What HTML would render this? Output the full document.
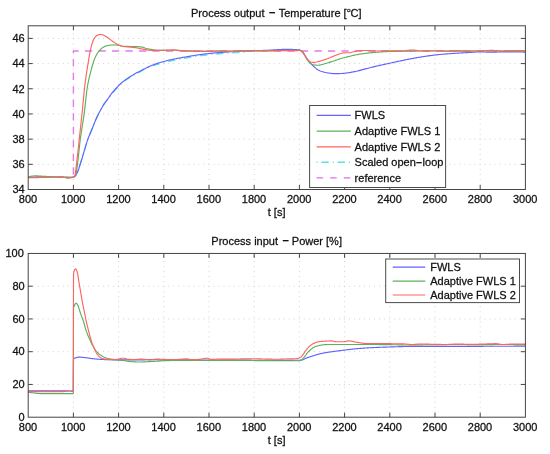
<!DOCTYPE html>
<html><head><meta charset="utf-8"><title>Process output and input</title>
<style>html,body{margin:0;padding:0;background:#fff;}body{width:550px;height:454px;position:relative;overflow:hidden;font-family:"Liberation Sans",sans-serif;}svg text{stroke:#111;stroke-width:0.25px}</style>
</head><body>
<svg width="550" height="454" viewBox="0 0 550 454" style="display:block;position:absolute;left:0;top:0" font-family="'Liberation Sans', sans-serif" font-size="10.4px" fill="#111">
<rect width="550" height="454" fill="#fff"/>
<line x1="73.40" y1="190.00" x2="73.40" y2="26.80" stroke="#d2d2d2" stroke-width="1" stroke-dasharray="1 4.02"/>
<line x1="118.60" y1="190.00" x2="118.60" y2="26.80" stroke="#d2d2d2" stroke-width="1" stroke-dasharray="1 4.02"/>
<line x1="163.80" y1="190.00" x2="163.80" y2="26.80" stroke="#d2d2d2" stroke-width="1" stroke-dasharray="1 4.02"/>
<line x1="209.00" y1="190.00" x2="209.00" y2="26.80" stroke="#d2d2d2" stroke-width="1" stroke-dasharray="1 4.02"/>
<line x1="254.20" y1="190.00" x2="254.20" y2="26.80" stroke="#d2d2d2" stroke-width="1" stroke-dasharray="1 4.02"/>
<line x1="299.40" y1="190.00" x2="299.40" y2="26.80" stroke="#d2d2d2" stroke-width="1" stroke-dasharray="1 4.02"/>
<line x1="344.60" y1="190.00" x2="344.60" y2="26.80" stroke="#d2d2d2" stroke-width="1" stroke-dasharray="1 4.02"/>
<line x1="389.80" y1="190.00" x2="389.80" y2="26.80" stroke="#d2d2d2" stroke-width="1" stroke-dasharray="1 4.02"/>
<line x1="435.00" y1="190.00" x2="435.00" y2="26.80" stroke="#d2d2d2" stroke-width="1" stroke-dasharray="1 4.02"/>
<line x1="480.20" y1="190.00" x2="480.20" y2="26.80" stroke="#d2d2d2" stroke-width="1" stroke-dasharray="1 4.02"/>
<line x1="27.70" y1="164.32" x2="524.40" y2="164.32" stroke="#d2d2d2" stroke-width="1" stroke-dasharray="1 4.02"/>
<line x1="27.70" y1="139.13" x2="524.40" y2="139.13" stroke="#d2d2d2" stroke-width="1" stroke-dasharray="1 4.02"/>
<line x1="27.70" y1="113.95" x2="524.40" y2="113.95" stroke="#d2d2d2" stroke-width="1" stroke-dasharray="1 4.02"/>
<line x1="27.70" y1="88.76" x2="524.40" y2="88.76" stroke="#d2d2d2" stroke-width="1" stroke-dasharray="1 4.02"/>
<line x1="27.70" y1="63.58" x2="524.40" y2="63.58" stroke="#d2d2d2" stroke-width="1" stroke-dasharray="1 4.02"/>
<line x1="27.70" y1="38.39" x2="524.40" y2="38.39" stroke="#d2d2d2" stroke-width="1" stroke-dasharray="1 4.02"/>
<path d="M73.40,176.91 L73.40,50.98 L525.40,50.98" fill="none" stroke="#e57aed" stroke-width="1.4" stroke-dasharray="7.3 6.2" stroke-dashoffset="11.05"/>
<path d="M73.40,176.91 L74.30,176.53 L75.21,175.86 L75.66,175.40 L76.11,174.82 L77.02,173.28 L77.69,171.87 L77.92,171.34 L78.82,168.75 L79.73,165.78 L80.18,164.32 L80.63,162.88 L81.54,159.96 L82.44,156.99 L82.89,155.50 L83.34,154.00 L84.25,150.96 L85.15,147.94 L85.38,147.19 L86.06,144.91 L86.96,141.88 L87.86,139.13 L88.77,136.81 L89.67,134.70 L90.58,132.58 L91.48,130.40 L92.38,128.21 L93.06,126.54 L93.29,125.97 L94.19,123.64 L95.10,121.33 L95.55,120.24 L96.00,119.20 L96.90,117.21 L97.81,115.31 L98.49,113.95 L98.71,113.50 L99.62,111.81 L100.52,110.19 L100.75,109.79 L101.42,108.58 L102.33,106.96 L103.23,105.38 L104.14,103.92 L104.59,103.24 L105.04,102.62 L105.94,101.47 L106.85,100.35 L107.75,99.17 L108.66,97.98 L109.56,96.79 L110.46,95.63 L110.92,95.06 L111.37,94.49 L112.27,93.37 L113.18,92.27 L114.08,91.19 L114.98,90.14 L115.66,89.39 L115.89,89.15 L116.79,88.17 L117.70,87.21 L118.60,86.27 L119.50,85.37 L120.41,84.50 L121.31,83.68 L121.99,83.09 L122.22,82.91 L123.12,82.17 L124.02,81.47 L124.93,80.79 L125.83,80.14 L126.74,79.51 L127.64,78.89 L128.54,78.30 L129.45,77.72 L129.90,77.43 L130.35,77.14 L131.26,76.59 L132.16,76.04 L133.06,75.51 L133.97,74.99 L134.87,74.48 L135.78,73.98 L136.68,73.49 L137.58,73.01 L138.49,72.53 L139.39,72.06 L140.30,71.59 L141.20,71.12 L141.43,71.01 L142.10,70.66 L143.01,70.19 L143.91,69.72 L144.82,69.25 L145.72,68.78 L146.62,68.33 L147.53,67.88 L148.43,67.45 L149.34,67.03 L150.24,66.64 L151.14,66.27 L152.05,65.93 L152.27,65.84 L152.95,65.61 L153.86,65.30 L154.76,65.01 L155.66,64.74 L156.57,64.47 L157.47,64.21 L158.38,63.97 L159.28,63.72 L160.18,63.49 L161.09,63.26 L161.99,63.03 L162.90,62.80 L163.80,62.57 L164.70,62.34 L165.61,62.12 L166.51,61.90 L167.42,61.68 L168.32,61.47 L169.22,61.26 L170.13,61.05 L171.03,60.85 L171.94,60.65 L172.84,60.46 L173.74,60.27 L174.20,60.18 L174.65,60.08 L175.55,59.90 L176.46,59.73 L177.36,59.55 L178.26,59.38 L179.17,59.21 L180.07,59.05 L180.98,58.89 L181.88,58.72 L182.78,58.56 L183.69,58.40 L184.59,58.24 L185.04,58.16 L185.50,58.08 L186.40,57.92 L187.30,57.76 L188.21,57.61 L189.11,57.45 L190.02,57.30 L190.92,57.15 L191.82,57.01 L192.73,56.86 L193.63,56.72 L194.54,56.58 L195.44,56.44 L196.34,56.30 L197.25,56.16 L198.15,56.03 L199.06,55.90 L199.96,55.77 L200.86,55.64 L201.77,55.52 L202.67,55.40 L203.58,55.28 L204.48,55.16 L205.38,55.05 L206.29,54.94 L207.19,54.83 L208.10,54.73 L209.00,54.64 L209.90,54.54 L210.81,54.46 L211.71,54.37 L212.62,54.28 L213.52,54.20 L214.42,54.12 L215.33,54.04 L216.23,53.97 L217.14,53.89 L218.04,53.82 L218.94,53.74 L219.85,53.67 L220.75,53.60 L221.66,53.53 L222.56,53.46 L223.46,53.39 L223.69,53.38 L224.37,53.33 L225.27,53.26 L226.18,53.19 L227.08,53.12 L227.98,53.06 L228.89,52.99 L229.79,52.93 L230.70,52.87 L231.60,52.81 L232.50,52.75 L233.41,52.70 L234.31,52.65 L234.76,52.62 L235.22,52.60 L236.12,52.55 L237.02,52.50 L237.93,52.45 L238.83,52.41 L239.74,52.36 L240.64,52.32 L241.54,52.28 L242.45,52.24 L243.35,52.20 L244.26,52.17 L245.16,52.13 L245.61,52.12" fill="none" stroke="#5ae0e0" stroke-width="1.45" stroke-linejoin="round" stroke-dasharray="7.2 4.1 1 3.9" stroke-dashoffset="3"/>
<path d="M28.20,177.54 L29.10,177.46 L30.01,177.39 L30.91,177.31 L31.82,177.25 L32.72,177.18 L33.62,177.12 L34.53,177.06 L35.43,177.02 L36.34,176.97 L37.24,176.94 L38.14,176.92 L39.05,176.91 L39.50,176.91 L39.95,176.91 L40.86,176.91 L41.76,176.91 L42.66,176.91 L43.57,176.91 L44.47,176.91 L45.38,176.91 L46.28,176.91 L47.18,176.91 L48.09,176.91 L48.99,176.91 L49.90,176.91 L50.80,176.91 L51.70,176.91 L52.61,176.92 L53.51,176.94 L54.42,176.96 L55.32,176.98 L56.22,177.00 L57.13,177.03 L58.03,177.06 L58.94,177.08 L59.84,177.11 L60.74,177.13 L61.65,177.15 L62.10,177.16 L62.55,177.17 L63.46,177.18 L64.36,177.20 L65.26,177.22 L66.17,177.23 L67.07,177.25 L67.98,177.26 L68.88,177.27 L69.78,177.28 L70.69,177.28 L71.14,177.29 L71.59,177.27 L72.50,177.12 L73.40,176.86 L74.30,176.53 L75.21,175.87 L75.66,175.40 L76.11,174.82 L77.02,173.28 L77.69,171.87 L77.92,171.34 L78.82,168.75 L79.73,165.78 L80.18,164.32 L80.63,162.88 L81.54,159.96 L82.44,156.99 L82.89,155.50 L83.34,154.00 L84.25,150.96 L85.15,147.94 L85.38,147.19 L86.06,144.91 L86.96,141.88 L87.86,139.13 L88.77,136.81 L89.67,134.70 L90.58,132.58 L91.48,130.40 L92.38,128.21 L93.06,126.54 L93.29,125.97 L94.19,123.64 L95.10,121.33 L95.55,120.24 L96.00,119.20 L96.90,117.21 L97.81,115.31 L98.49,113.95 L98.71,113.50 L99.62,111.81 L100.52,110.19 L100.75,109.79 L101.42,108.58 L102.33,106.96 L103.23,105.38 L104.14,103.92 L104.59,103.24 L105.04,102.62 L105.94,101.49 L106.85,100.35 L107.75,99.06 L108.66,97.71 L109.56,96.35 L110.46,95.04 L110.92,94.43 L111.37,93.84 L112.27,92.70 L113.18,91.60 L114.08,90.53 L114.98,89.51 L115.66,88.76 L115.89,88.52 L116.79,87.54 L117.70,86.58 L118.60,85.64 L119.50,84.74 L120.41,83.87 L121.31,83.05 L121.99,82.47 L122.22,82.28 L123.12,81.54 L124.02,80.84 L124.93,80.16 L125.83,79.51 L126.74,78.88 L127.64,78.26 L128.54,77.67 L129.45,77.09 L129.90,76.80 L130.35,76.52 L131.26,75.96 L132.16,75.41 L133.06,74.88 L133.97,74.36 L134.87,73.85 L135.78,73.35 L136.68,72.86 L137.58,72.38 L138.49,71.90 L139.39,71.43 L140.30,70.96 L141.20,70.49 L141.43,70.38 L142.10,70.03 L143.01,69.56 L143.91,69.10 L144.82,68.64 L145.72,68.19 L146.62,67.74 L147.53,67.30 L148.43,66.87 L149.34,66.45 L150.24,66.05 L151.14,65.67 L152.05,65.30 L152.27,65.21 L152.95,64.95 L153.86,64.61 L154.76,64.28 L155.66,63.96 L156.57,63.64 L157.47,63.34 L158.38,63.04 L159.28,62.75 L160.18,62.47 L161.09,62.20 L161.99,61.94 L162.90,61.68 L163.80,61.44 L164.70,61.20 L165.61,60.97 L166.51,60.74 L167.42,60.52 L168.32,60.31 L169.22,60.11 L170.13,59.90 L171.03,59.71 L171.94,59.51 L172.84,59.32 L173.74,59.14 L174.20,59.04 L174.65,58.95 L175.55,58.77 L176.46,58.59 L177.36,58.42 L178.26,58.25 L179.17,58.08 L180.07,57.92 L180.98,57.75 L181.88,57.59 L182.78,57.43 L183.69,57.27 L184.59,57.11 L185.04,57.03 L185.50,56.95 L186.40,56.79 L187.30,56.63 L188.21,56.47 L189.11,56.32 L190.02,56.17 L190.92,56.02 L191.82,55.88 L192.73,55.73 L193.63,55.59 L194.54,55.45 L195.44,55.30 L196.34,55.17 L197.25,55.03 L198.15,54.89 L199.06,54.76 L199.96,54.63 L200.86,54.51 L201.77,54.38 L202.67,54.26 L203.58,54.15 L204.48,54.03 L205.38,53.92 L206.29,53.81 L207.19,53.70 L208.10,53.60 L209.00,53.50 L209.90,53.41 L210.81,53.32 L211.71,53.24 L212.62,53.15 L213.52,53.07 L214.42,52.99 L215.33,52.91 L216.23,52.83 L217.14,52.76 L218.04,52.68 L218.94,52.61 L219.85,52.54 L220.75,52.47 L221.66,52.40 L222.56,52.33 L223.46,52.26 L223.69,52.24 L224.37,52.19 L225.27,52.12 L226.18,52.06 L227.08,51.99 L227.98,51.93 L228.89,51.86 L229.79,51.80 L230.70,51.74 L231.60,51.68 L232.50,51.62 L233.41,51.57 L234.31,51.51 L234.76,51.49 L235.22,51.46 L236.12,51.41 L237.02,51.37 L237.93,51.32 L238.83,51.28 L239.74,51.23 L240.64,51.19 L241.54,51.15 L242.45,51.11 L243.35,51.07 L244.26,51.04 L245.16,51.00 L245.61,50.98 L246.06,50.97 L246.97,50.94 L247.87,50.91 L248.78,50.89 L249.68,50.86 L250.58,50.84 L251.49,50.81 L252.39,50.79 L253.30,50.76 L254.20,50.73 L255.10,50.70 L256.01,50.67 L256.91,50.64 L257.82,50.62 L258.72,50.59 L259.62,50.55 L260.53,50.52 L261.43,50.49 L262.34,50.46 L263.24,50.42 L264.14,50.39 L265.05,50.35 L265.95,50.32 L266.86,50.28 L267.76,50.24 L267.99,50.23 L268.66,50.20 L269.57,50.15 L270.47,50.10 L271.38,50.04 L272.28,49.99 L273.18,49.93 L274.09,49.87 L274.99,49.81 L275.90,49.76 L276.80,49.70 L277.70,49.66 L278.61,49.61 L278.83,49.60 L279.51,49.57 L280.42,49.52 L281.32,49.47 L282.22,49.43 L283.13,49.39 L284.03,49.37 L284.94,49.35 L285.39,49.35 L285.84,49.35 L286.74,49.35 L287.65,49.36 L288.55,49.37 L289.46,49.38 L290.36,49.39 L291.26,49.41 L292.17,49.42 L293.07,49.45 L293.98,49.47 L294.20,49.47 L294.88,49.50 L295.78,49.55 L296.69,49.62 L297.59,49.71 L298.50,49.83 L299.40,49.98 L300.30,50.26 L301.21,50.75 L302.11,51.41 L302.79,51.99 L303.02,52.22 L303.92,53.59 L304.82,55.26 L305.28,56.02 L305.73,56.73 L306.63,58.14 L307.54,59.48 L307.76,59.80 L308.44,60.72 L309.34,61.88 L310.25,62.95 L311.15,63.92 L312.06,64.83 L312.96,65.70 L313.86,66.52 L314.09,66.73 L314.77,67.34 L315.67,68.17 L316.58,68.95 L317.48,69.61 L317.93,69.87 L318.38,70.11 L319.29,70.54 L320.19,70.92 L321.10,71.25 L322.00,71.55 L322.90,71.82 L323.13,71.89 L323.81,72.07 L324.71,72.31 L325.62,72.52 L326.52,72.71 L327.42,72.88 L328.33,73.02 L329.23,73.15 L330.14,73.27 L331.04,73.39 L331.94,73.49 L332.85,73.58 L333.75,73.63 L334.66,73.65 L335.56,73.65 L336.46,73.64 L337.37,73.62 L338.27,73.60 L339.18,73.58 L340.08,73.55 L340.98,73.52 L341.89,73.48 L342.79,73.42 L343.70,73.33 L344.60,73.23 L345.50,73.12 L346.41,73.01 L347.31,72.90 L348.22,72.77 L349.12,72.64 L350.02,72.50 L350.93,72.34 L351.83,72.17 L352.74,72.00 L353.64,71.82 L354.54,71.64 L355.45,71.45 L356.35,71.26 L357.26,71.06 L358.16,70.84 L359.06,70.62 L359.97,70.38 L360.87,70.14 L361.78,69.90 L362.68,69.65 L363.58,69.40 L364.49,69.15 L365.39,68.91 L366.30,68.67 L366.52,68.61 L367.20,68.44 L368.10,68.21 L369.01,67.98 L369.91,67.76 L370.82,67.53 L371.72,67.30 L372.62,67.08 L373.53,66.85 L374.43,66.63 L375.34,66.42 L376.24,66.20 L376.69,66.10 L377.14,65.99 L378.05,65.78 L378.95,65.57 L379.86,65.37 L380.76,65.17 L381.66,64.97 L382.57,64.77 L383.47,64.57 L384.38,64.37 L385.28,64.18 L386.18,63.98 L387.09,63.79 L387.99,63.59 L388.90,63.40 L389.80,63.20 L390.70,63.00 L391.61,62.80 L392.51,62.61 L393.42,62.41 L394.32,62.21 L395.22,62.01 L396.13,61.82 L397.03,61.62 L397.94,61.43 L398.84,61.23 L399.74,61.04 L400.65,60.85 L401.55,60.66 L402.46,60.48 L402.68,60.43 L403.36,60.29 L404.26,60.10 L405.17,59.92 L406.07,59.73 L406.98,59.55 L407.88,59.36 L408.78,59.18 L409.69,59.00 L410.59,58.82 L411.50,58.65 L412.40,58.48 L413.30,58.31 L414.21,58.15 L415.11,57.99 L415.56,57.91 L416.02,57.83 L416.92,57.68 L417.82,57.53 L418.73,57.37 L419.63,57.22 L420.54,57.07 L421.44,56.92 L422.34,56.78 L423.25,56.63 L424.15,56.49 L425.06,56.35 L425.96,56.21 L426.86,56.07 L427.77,55.94 L428.67,55.81 L429.58,55.69 L430.48,55.56 L431.38,55.45 L432.29,55.33 L433.19,55.22 L434.10,55.12 L435.00,55.01 L435.90,54.92 L436.81,54.82 L437.71,54.73 L438.62,54.64 L439.52,54.55 L440.42,54.46 L441.33,54.38 L442.23,54.30 L443.14,54.22 L444.04,54.14 L444.94,54.06 L445.85,53.99 L446.75,53.92 L447.66,53.84 L448.56,53.77 L449.46,53.70 L450.37,53.64 L451.27,53.57 L452.18,53.51 L453.08,53.44 L453.98,53.38 L454.89,53.32 L455.79,53.26 L456.70,53.20 L457.60,53.14 L458.50,53.09 L459.41,53.03 L460.31,52.98 L461.22,52.93 L462.12,52.88 L463.02,52.83 L463.93,52.78 L464.83,52.72 L465.74,52.67 L466.64,52.62 L467.54,52.57 L468.45,52.51 L469.35,52.44 L470.26,52.38 L471.16,52.31 L472.06,52.24 L472.97,52.18 L473.87,52.12 L474.78,52.06 L475.68,52.00 L476.58,51.96 L477.49,51.92 L478.39,51.89 L479.30,51.87 L480.20,51.87 L481.10,51.87 L482.01,51.89 L482.91,51.92 L483.82,51.95 L484.72,51.99 L485.62,52.03 L486.53,52.08 L487.43,52.12 L488.34,52.16 L489.24,52.19 L490.14,52.22 L491.05,52.24 L491.95,52.24 L492.86,52.24 L493.76,52.22 L494.66,52.18 L495.57,52.15 L496.47,52.10 L497.38,52.05 L498.28,52.01 L499.18,51.96 L500.09,51.93 L500.99,51.89 L501.90,51.87 L502.80,51.87 L503.70,51.87 L504.61,51.87 L505.51,51.87 L506.42,51.87 L507.32,51.87 L508.22,51.87 L509.13,51.87 L510.03,51.87 L510.94,51.88 L511.84,51.88 L512.74,51.89 L513.65,51.89 L514.55,51.90 L515.46,51.91 L516.36,51.92 L517.26,51.93 L518.17,51.95 L519.07,51.96 L519.98,51.98 L520.88,52.00 L521.78,52.02 L522.69,52.04 L523.59,52.06 L524.50,52.09 L525.40,52.12" fill="none" stroke="#6262ff" stroke-width="1.15" stroke-linejoin="round" />
<path d="M28.20,176.91 L29.10,176.70 L30.01,176.51 L30.91,176.33 L31.82,176.17 L32.72,176.05 L33.62,175.96 L34.53,175.91 L34.98,175.90 L35.43,175.90 L36.34,175.91 L37.24,175.94 L38.14,175.97 L39.05,176.01 L39.95,176.06 L40.86,176.11 L41.76,176.16 L42.66,176.21 L43.57,176.26 L44.02,176.28 L44.47,176.30 L45.38,176.35 L46.28,176.41 L47.18,176.47 L48.09,176.52 L48.99,176.57 L49.90,176.62 L50.80,176.66 L51.70,176.68 L52.61,176.71 L53.51,176.73 L54.42,176.75 L55.32,176.77 L56.22,176.78 L57.13,176.80 L58.03,176.82 L58.94,176.83 L59.84,176.85 L60.74,176.87 L61.65,176.89 L62.10,176.91 L62.55,176.92 L63.46,176.96 L64.36,177.00 L65.26,177.05 L66.17,177.10 L67.07,177.15 L67.98,177.20 L68.88,177.24 L69.78,177.27 L70.69,177.28 L71.14,177.29 L71.59,177.28 L72.50,177.22 L73.40,177.10 L74.30,176.91 L75.21,176.03 L75.43,175.65 L76.11,173.19 L76.79,169.35 L77.02,167.92 L77.92,160.68 L78.37,156.76 L78.82,152.67 L79.73,143.96 L80.29,139.13 L80.63,136.66 L81.54,130.81 L82.21,126.54 L82.44,125.08 L83.34,119.38 L84.14,113.95 L84.25,113.08 L85.15,105.33 L85.60,101.35 L86.06,97.29 L86.96,89.54 L87.07,88.76 L87.86,84.11 L88.77,79.71 L88.99,78.69 L89.67,75.81 L90.58,72.33 L91.10,70.38 L91.48,68.90 L92.38,65.48 L92.95,63.58 L93.29,62.53 L94.19,59.91 L95.10,57.62 L95.55,56.65 L96.00,55.77 L96.90,54.17 L97.81,52.75 L98.71,51.53 L99.16,50.98 L99.62,50.47 L100.52,49.49 L101.42,48.60 L102.33,47.85 L103.23,47.26 L103.32,47.21 L104.14,46.79 L105.04,46.38 L105.94,46.03 L106.85,45.76 L107.68,45.57 L107.75,45.56 L108.66,45.40 L109.56,45.25 L110.46,45.13 L111.37,45.03 L112.27,44.96 L113.18,44.94 L114.08,44.95 L114.98,44.97 L115.89,45.01 L116.79,45.06 L117.70,45.12 L118.60,45.19 L119.50,45.34 L120.41,45.60 L121.31,45.88 L122.22,46.11 L122.89,46.20 L123.12,46.21 L124.02,46.27 L124.93,46.31 L125.83,46.35 L126.74,46.38 L127.64,46.41 L128.54,46.43 L129.45,46.45 L130.35,46.47 L131.26,46.49 L132.16,46.50 L133.06,46.52 L133.97,46.53 L134.87,46.55 L135.78,46.57 L136.00,46.58 L136.68,46.60 L137.58,46.64 L138.49,46.70 L139.39,46.76 L140.30,46.84 L141.20,46.93 L141.43,46.96 L142.10,47.07 L143.01,47.31 L143.91,47.61 L144.82,47.95 L145.72,48.27 L146.62,48.54 L146.85,48.59 L147.53,48.74 L148.43,48.94 L149.34,49.11 L150.24,49.28 L151.14,49.43 L152.05,49.57 L152.27,49.60 L152.95,49.70 L153.86,49.83 L154.76,49.96 L155.66,50.07 L156.57,50.16 L157.47,50.22 L157.70,50.23 L158.38,50.25 L159.28,50.28 L160.18,50.31 L161.09,50.33 L161.99,50.34 L162.90,50.35 L163.80,50.36 L164.70,50.35 L165.61,50.34 L166.51,50.33 L167.42,50.32 L168.32,50.30 L169.22,50.29 L170.13,50.27 L171.03,50.26 L171.94,50.24 L172.84,50.23 L173.74,50.23 L174.20,50.23 L174.65,50.23 L175.55,50.25 L176.46,50.27 L177.36,50.31 L178.26,50.36 L179.17,50.41 L180.07,50.47 L180.98,50.53 L181.88,50.58 L182.78,50.63 L183.69,50.68 L184.59,50.72 L185.04,50.73 L185.50,50.75 L186.40,50.77 L187.30,50.80 L188.21,50.83 L189.11,50.86 L190.02,50.88 L190.92,50.91 L191.82,50.94 L192.73,50.96 L193.63,50.99 L194.54,51.01 L195.44,51.04 L196.34,51.06 L197.25,51.08 L198.15,51.10 L199.06,51.12 L199.96,51.14 L200.86,51.16 L201.77,51.17 L202.67,51.19 L203.58,51.20 L204.48,51.21 L205.38,51.22 L206.29,51.23 L207.19,51.23 L208.10,51.24 L209.00,51.24 L209.90,51.24 L210.81,51.23 L211.71,51.23 L212.62,51.22 L213.52,51.22 L214.42,51.21 L215.33,51.20 L216.23,51.19 L217.14,51.18 L218.04,51.17 L218.94,51.16 L219.85,51.15 L220.75,51.14 L221.66,51.12 L222.56,51.11 L223.46,51.10 L224.37,51.08 L225.27,51.07 L226.18,51.06 L227.08,51.04 L227.98,51.03 L228.89,51.02 L229.79,51.01 L230.70,51.00 L231.60,50.98 L232.50,50.97 L233.41,50.96 L234.31,50.95 L235.22,50.94 L236.12,50.93 L237.02,50.92 L237.93,50.91 L238.83,50.90 L239.74,50.89 L240.64,50.88 L241.54,50.86 L242.45,50.85 L243.35,50.84 L244.26,50.83 L245.16,50.82 L246.06,50.81 L246.97,50.80 L247.87,50.79 L248.78,50.78 L249.68,50.77 L250.58,50.76 L251.49,50.76 L252.39,50.75 L253.30,50.74 L254.20,50.73 L255.10,50.73 L256.01,50.72 L256.91,50.71 L257.82,50.71 L258.72,50.71 L259.62,50.70 L260.53,50.70 L261.43,50.69 L262.34,50.69 L263.24,50.68 L264.14,50.68 L265.05,50.68 L265.95,50.67 L266.86,50.67 L267.76,50.67 L268.66,50.66 L269.57,50.66 L270.47,50.65 L271.38,50.65 L272.28,50.64 L273.18,50.64 L274.09,50.63 L274.99,50.62 L275.90,50.62 L276.80,50.61 L277.70,50.59 L278.61,50.58 L279.51,50.56 L280.42,50.53 L281.32,50.50 L282.22,50.47 L283.13,50.45 L284.03,50.42 L284.94,50.40 L285.84,50.38 L286.74,50.36 L287.65,50.36 L288.10,50.36 L288.55,50.36 L289.46,50.36 L290.36,50.36 L291.26,50.36 L292.17,50.36 L293.07,50.36 L293.98,50.36 L294.88,50.36 L295.78,50.36 L296.69,50.36 L297.14,50.36 L297.59,50.32 L298.50,50.11 L299.40,49.98 L300.30,50.20 L301.21,50.79 L302.11,51.59 L302.79,52.24 L303.02,52.49 L303.92,53.85 L304.82,55.49 L305.28,56.27 L305.73,57.04 L306.63,58.65 L307.54,60.11 L307.76,60.43 L308.44,61.32 L309.34,62.40 L310.25,63.20 L311.15,63.78 L312.06,64.29 L312.96,64.69 L313.86,64.93 L314.09,64.96 L314.77,65.04 L315.67,65.12 L316.58,65.18 L317.48,65.21 L317.93,65.21 L318.38,65.20 L319.29,65.10 L320.19,64.94 L321.10,64.72 L322.00,64.49 L322.90,64.26 L323.13,64.21 L323.81,64.04 L324.71,63.80 L325.62,63.53 L326.52,63.25 L327.42,62.97 L328.33,62.70 L329.23,62.42 L330.14,62.14 L331.04,61.85 L331.94,61.56 L332.85,61.27 L333.75,60.98 L334.66,60.68 L335.56,60.38 L336.46,60.06 L337.37,59.74 L338.27,59.43 L339.18,59.12 L340.08,58.82 L340.98,58.54 L341.89,58.28 L342.79,58.02 L343.70,57.78 L344.60,57.54 L345.50,57.31 L346.41,57.08 L347.31,56.86 L348.22,56.64 L348.67,56.53 L349.12,56.41 L350.02,56.19 L350.93,55.97 L351.83,55.75 L352.74,55.53 L353.64,55.32 L354.54,55.12 L355.45,54.94 L356.35,54.76 L357.26,54.60 L358.16,54.44 L359.06,54.29 L359.97,54.15 L360.87,54.01 L361.78,53.88 L362.68,53.75 L363.58,53.62 L364.49,53.50 L365.39,53.39 L366.30,53.28 L366.52,53.25 L367.20,53.17 L368.10,53.07 L369.01,52.97 L369.91,52.87 L370.82,52.77 L371.72,52.68 L372.62,52.59 L373.53,52.51 L374.43,52.43 L375.34,52.35 L376.24,52.28 L376.69,52.24 L377.14,52.21 L378.05,52.14 L378.95,52.08 L379.86,52.02 L380.76,51.95 L381.66,51.89 L382.57,51.84 L383.47,51.78 L384.38,51.73 L385.28,51.68 L386.18,51.63 L387.09,51.59 L387.99,51.55 L388.90,51.52 L389.80,51.49 L390.70,51.46 L391.61,51.44 L392.51,51.42 L393.42,51.40 L394.32,51.38 L395.22,51.36 L396.13,51.34 L397.03,51.32 L397.94,51.31 L398.84,51.29 L399.74,51.28 L400.65,51.26 L401.55,51.25 L402.23,51.24 L402.46,51.23 L403.36,51.22 L404.26,51.20 L405.17,51.18 L406.07,51.17 L406.98,51.15 L407.88,51.13 L408.78,51.12 L409.69,51.10 L410.59,51.08 L411.50,51.07 L412.40,51.05 L413.30,51.04 L414.21,51.03 L415.11,51.02 L416.02,51.01 L416.92,51.00 L417.82,50.99 L418.73,50.99 L419.63,50.98 L420.08,50.98 L420.54,50.98 L421.44,50.98 L422.34,50.98 L423.25,50.98 L424.15,50.98 L425.06,50.98 L425.96,50.98 L426.86,50.98 L427.77,50.98 L428.67,50.98 L429.58,50.98 L430.48,50.98 L431.38,50.98 L432.29,50.98 L433.19,50.98 L434.10,50.98 L435.00,50.98 L435.90,50.99 L436.81,50.99 L437.71,50.99 L438.62,51.00 L439.52,51.01 L440.42,51.02 L441.33,51.03 L442.23,51.05 L443.14,51.06 L444.04,51.07 L444.94,51.09 L445.85,51.10 L446.75,51.12 L447.66,51.13 L448.56,51.15 L449.46,51.16 L450.37,51.18 L451.27,51.19 L452.18,51.20 L453.08,51.21 L453.98,51.22 L454.89,51.23 L455.79,51.23 L456.70,51.24 L457.60,51.24 L458.50,51.24 L459.41,51.23 L460.31,51.23 L461.22,51.22 L462.12,51.21 L463.02,51.20 L463.93,51.19 L464.83,51.18 L465.74,51.16 L466.64,51.15 L467.54,51.13 L468.45,51.12 L469.35,51.10 L470.26,51.09 L471.16,51.07 L472.06,51.06 L472.97,51.05 L473.87,51.03 L474.78,51.02 L475.68,51.01 L476.58,51.00 L477.49,50.99 L478.39,50.99 L479.30,50.99 L480.20,50.98 L481.10,50.98 L482.01,50.98 L482.91,50.98 L483.82,50.98 L484.72,50.98 L485.62,50.98 L486.53,50.98 L487.43,50.98 L488.34,50.98 L489.24,50.98 L490.14,50.98 L491.05,50.98 L491.95,50.98 L492.86,50.98 L493.76,50.98 L494.66,50.98 L495.57,50.98 L496.47,50.98 L497.38,50.98 L498.28,50.98 L499.18,50.98 L500.09,50.98 L500.99,50.98 L501.90,50.98 L502.80,50.98 L503.70,50.99 L504.61,50.99 L505.51,50.99 L506.42,50.99 L507.32,51.00 L508.22,51.00 L509.13,51.01 L510.03,51.02 L510.94,51.03 L511.84,51.04 L512.74,51.05 L513.65,51.06 L514.55,51.07 L515.46,51.08 L516.36,51.09 L517.26,51.11 L518.17,51.12 L519.07,51.13 L519.98,51.15 L520.88,51.16 L521.78,51.18 L522.69,51.19 L523.59,51.21 L524.50,51.22 L525.40,51.24" fill="none" stroke="#5ab25a" stroke-width="1.15" stroke-linejoin="round" />
<path d="M28.20,177.79 L29.10,177.77 L30.01,177.75 L30.91,177.73 L31.82,177.71 L32.72,177.69 L33.62,177.67 L34.53,177.65 L35.43,177.63 L36.34,177.61 L37.24,177.59 L38.14,177.57 L39.05,177.55 L39.50,177.54 L39.95,177.53 L40.86,177.51 L41.76,177.48 L42.66,177.46 L43.57,177.44 L44.47,177.42 L45.38,177.40 L46.28,177.37 L47.18,177.35 L48.09,177.33 L48.99,177.32 L49.90,177.30 L50.80,177.29 L51.70,177.27 L52.61,177.26 L53.51,177.24 L54.42,177.23 L55.32,177.22 L56.22,177.20 L57.13,177.19 L58.03,177.18 L58.94,177.17 L59.84,177.17 L60.74,177.16 L61.65,177.16 L62.10,177.16 L62.55,177.18 L63.46,177.31 L64.36,177.51 L65.26,177.75 L66.17,177.97 L67.07,178.13 L67.75,178.17 L67.98,178.16 L68.88,178.12 L69.78,178.01 L70.69,177.86 L71.59,177.69 L72.27,177.54 L72.50,177.48 L73.40,177.15 L73.85,176.91 L74.30,176.57 L74.98,175.65 L75.21,174.86 L76.11,167.36 L76.45,164.32 L77.02,159.62 L77.92,151.72 L78.82,143.37 L79.28,139.13 L79.73,134.93 L80.63,126.54 L81.54,118.23 L81.99,113.95 L82.44,109.45 L83.23,101.35 L83.34,100.20 L84.25,90.87 L84.47,88.76 L85.15,83.00 L86.06,76.17 L86.96,70.18 L87.86,64.67 L88.04,63.58 L88.77,59.12 L89.67,53.78 L90.21,50.98 L90.58,49.31 L91.48,45.59 L91.93,44.06 L92.38,42.70 L93.29,40.30 L94.19,38.50 L94.26,38.39 L95.10,37.23 L96.00,36.20 L96.90,35.49 L97.13,35.37 L97.81,35.07 L98.71,34.71 L99.62,34.47 L100.52,34.36 L100.59,34.36 L101.42,34.46 L102.33,34.73 L103.23,35.09 L103.91,35.37 L104.14,35.46 L105.04,35.91 L105.94,36.45 L106.85,37.06 L107.75,37.69 L108.66,38.32 L108.77,38.39 L109.56,38.95 L110.46,39.64 L111.37,40.34 L112.27,41.03 L113.18,41.67 L114.08,42.27 L114.98,42.88 L115.89,43.46 L116.79,44.01 L117.70,44.51 L118.60,44.94 L119.50,45.34 L120.41,45.72 L121.31,46.05 L122.22,46.31 L122.89,46.45 L123.12,46.49 L124.02,46.61 L124.93,46.71 L125.83,46.79 L126.74,46.86 L127.64,46.93 L128.54,47.00 L129.45,47.08 L130.35,47.16 L131.26,47.24 L132.16,47.32 L133.06,47.40 L133.97,47.48 L134.87,47.57 L135.78,47.68 L136.00,47.71 L136.68,47.81 L137.58,47.99 L138.49,48.18 L139.39,48.39 L140.30,48.60 L141.20,48.80 L141.43,48.84 L142.10,48.98 L143.01,49.16 L143.91,49.34 L144.82,49.51 L145.72,49.67 L146.62,49.82 L146.85,49.85 L147.53,49.95 L148.43,50.09 L149.34,50.23 L150.24,50.35 L151.14,50.44 L152.05,50.48 L152.27,50.48 L152.95,50.47 L153.86,50.43 L154.76,50.37 L155.66,50.31 L156.57,50.26 L157.47,50.23 L157.70,50.23 L158.38,50.23 L159.28,50.23 L160.18,50.23 L161.09,50.23 L161.99,50.23 L162.90,50.23 L163.80,50.23 L164.70,50.22 L165.61,50.20 L166.51,50.18 L167.42,50.15 L168.32,50.12 L168.77,50.10 L169.22,50.09 L170.13,50.04 L171.03,49.98 L171.94,49.93 L172.84,49.88 L173.74,49.86 L174.20,49.85 L174.65,49.86 L175.55,49.95 L176.46,50.08 L177.36,50.25 L178.26,50.42 L179.17,50.56 L179.62,50.61 L180.07,50.65 L180.98,50.73 L181.88,50.80 L182.78,50.86 L183.69,50.92 L184.59,50.97 L185.04,50.98 L185.50,51.00 L186.40,51.04 L187.30,51.07 L188.21,51.11 L189.11,51.14 L190.02,51.17 L190.92,51.20 L191.82,51.23 L192.73,51.25 L193.63,51.28 L194.54,51.30 L195.44,51.32 L196.34,51.33 L197.25,51.35 L198.15,51.35 L199.06,51.36 L199.96,51.36 L200.86,51.36 L201.77,51.35 L202.67,51.34 L203.58,51.33 L204.48,51.32 L205.38,51.30 L206.29,51.29 L207.19,51.27 L208.10,51.25 L209.00,51.24 L209.90,51.22 L210.81,51.20 L211.71,51.17 L212.62,51.15 L213.52,51.12 L214.42,51.09 L215.33,51.07 L216.23,51.04 L217.14,51.02 L218.04,51.00 L218.94,50.99 L219.85,50.99 L220.30,50.98 L220.75,50.99 L221.66,51.00 L222.56,51.02 L223.46,51.06 L224.37,51.10 L225.27,51.14 L226.18,51.18 L227.08,51.23 L227.98,51.27 L228.89,51.31 L229.79,51.34 L230.70,51.36 L231.60,51.36 L232.50,51.36 L233.41,51.36 L234.31,51.35 L235.22,51.34 L236.12,51.33 L237.02,51.32 L237.93,51.31 L238.83,51.30 L239.74,51.28 L240.64,51.27 L241.54,51.26 L242.45,51.24 L242.90,51.24 L243.35,51.23 L244.26,51.21 L245.16,51.19 L246.06,51.16 L246.97,51.14 L247.87,51.11 L248.78,51.08 L249.68,51.06 L250.58,51.03 L251.49,51.01 L252.39,51.00 L253.30,50.99 L254.20,50.98 L255.10,50.98 L256.01,50.98 L256.91,50.98 L257.82,50.98 L258.72,50.98 L259.62,50.98 L260.53,50.98 L261.43,50.98 L262.34,50.98 L263.24,50.98 L264.14,50.98 L265.05,50.98 L265.50,50.98 L265.95,50.98 L266.86,50.98 L267.76,50.96 L268.66,50.95 L269.57,50.92 L270.47,50.90 L271.38,50.87 L272.28,50.85 L273.18,50.82 L274.09,50.79 L274.99,50.77 L275.90,50.75 L276.80,50.73 L277.70,50.72 L278.61,50.71 L279.51,50.69 L280.42,50.68 L281.32,50.66 L282.22,50.65 L283.13,50.64 L284.03,50.63 L284.94,50.62 L285.84,50.61 L286.74,50.61 L287.65,50.61 L288.10,50.61 L288.55,50.61 L289.46,50.61 L290.36,50.61 L291.26,50.61 L292.17,50.61 L293.07,50.61 L293.98,50.61 L294.88,50.61 L295.78,50.61 L296.69,50.61 L297.14,50.61 L297.59,50.57 L298.50,50.36 L299.40,50.23 L300.30,50.50 L301.21,51.17 L302.11,52.06 L302.79,52.75 L303.02,52.99 L303.92,54.21 L304.82,55.60 L305.28,56.27 L305.73,56.94 L306.63,58.34 L307.54,59.56 L307.76,59.80 L308.44,60.46 L309.34,61.21 L310.25,61.69 L311.15,61.97 L312.06,62.20 L312.96,62.36 L313.86,62.44 L314.09,62.44 L314.77,62.40 L315.67,62.25 L316.58,62.04 L317.48,61.80 L317.93,61.69 L318.38,61.58 L319.29,61.34 L320.19,61.09 L321.10,60.81 L322.00,60.53 L322.90,60.25 L323.13,60.18 L323.81,59.96 L324.71,59.67 L325.62,59.37 L326.52,59.06 L327.42,58.75 L328.33,58.41 L329.23,58.06 L330.14,57.69 L331.04,57.30 L331.94,56.90 L332.85,56.51 L333.75,56.13 L334.66,55.77 L335.56,55.42 L336.46,55.06 L337.37,54.71 L338.27,54.37 L339.18,54.05 L340.08,53.76 L340.98,53.50 L341.89,53.25 L342.79,53.01 L343.70,52.82 L344.60,52.75 L345.50,52.75 L346.41,52.75 L347.31,52.75 L348.22,52.75 L348.67,52.75 L349.12,52.73 L350.02,52.63 L350.93,52.45 L351.83,52.23 L352.74,52.00 L353.64,51.79 L353.87,51.74 L354.54,51.59 L355.45,51.38 L356.35,51.16 L357.26,50.96 L358.16,50.80 L358.84,50.73 L359.06,50.72 L359.97,50.66 L360.87,50.61 L361.78,50.56 L362.68,50.53 L363.58,50.50 L364.49,50.48 L365.17,50.48 L365.39,50.48 L366.30,50.49 L367.20,50.52 L368.10,50.56 L369.01,50.61 L369.91,50.67 L370.82,50.73 L371.72,50.78 L372.62,50.84 L373.53,50.89 L374.43,50.93 L375.34,50.97 L376.24,50.98 L376.69,50.98 L377.14,50.98 L378.05,50.98 L378.95,50.96 L379.86,50.95 L380.76,50.93 L381.66,50.90 L382.57,50.88 L383.47,50.85 L384.38,50.83 L385.28,50.80 L386.18,50.78 L387.09,50.76 L387.99,50.75 L388.90,50.74 L389.80,50.73 L390.70,50.74 L391.61,50.75 L392.51,50.77 L393.42,50.79 L394.32,50.82 L395.22,50.85 L396.13,50.88 L397.03,50.91 L397.94,50.94 L398.84,50.96 L399.74,50.97 L400.65,50.98 L401.10,50.98 L401.55,50.98 L402.46,50.94 L403.36,50.88 L404.26,50.79 L405.17,50.69 L406.07,50.57 L406.98,50.45 L407.88,50.33 L408.78,50.22 L409.69,50.12 L410.59,50.05 L411.50,50.00 L412.40,49.98 L413.30,50.02 L414.21,50.12 L415.11,50.27 L416.02,50.44 L416.92,50.61 L417.82,50.77 L418.73,50.90 L419.63,50.97 L420.08,50.98 L420.54,50.98 L421.44,50.98 L422.34,50.97 L423.25,50.96 L424.15,50.94 L425.06,50.92 L425.96,50.90 L426.86,50.88 L427.77,50.85 L428.67,50.83 L429.58,50.81 L430.48,50.79 L431.38,50.77 L432.29,50.75 L433.19,50.74 L434.10,50.74 L435.00,50.73 L435.90,50.74 L436.81,50.75 L437.71,50.77 L438.62,50.79 L439.52,50.82 L440.42,50.85 L441.33,50.88 L442.23,50.91 L443.14,50.94 L444.04,50.96 L444.94,50.97 L445.85,50.98 L446.30,50.98 L446.75,50.98 L447.66,50.97 L448.56,50.95 L449.46,50.91 L450.37,50.87 L451.27,50.83 L452.18,50.78 L453.08,50.74 L453.98,50.70 L454.89,50.66 L455.79,50.63 L456.70,50.61 L457.60,50.61 L458.50,50.61 L459.41,50.63 L460.31,50.66 L461.22,50.70 L462.12,50.74 L463.02,50.78 L463.93,50.83 L464.83,50.87 L465.74,50.91 L466.64,50.95 L467.54,50.97 L468.45,50.98 L468.90,50.98 L469.35,50.98 L470.26,50.98 L471.16,50.98 L472.06,50.98 L472.97,50.98 L473.87,50.98 L474.78,50.98 L475.68,50.98 L476.58,50.98 L477.49,50.98 L478.39,50.98 L479.30,50.98 L480.20,50.98 L481.10,50.97 L482.01,50.94 L482.91,50.89 L483.82,50.83 L484.72,50.76 L485.62,50.69 L486.53,50.61 L487.43,50.54 L488.34,50.48 L489.24,50.42 L490.14,50.38 L491.05,50.36 L491.50,50.36 L491.95,50.36 L492.86,50.38 L493.76,50.42 L494.66,50.48 L495.57,50.54 L496.47,50.61 L497.38,50.69 L498.28,50.76 L499.18,50.83 L500.09,50.89 L500.99,50.94 L501.90,50.97 L502.80,50.98 L503.70,50.98 L504.61,50.96 L505.51,50.93 L506.42,50.89 L507.32,50.85 L508.22,50.81 L509.13,50.76 L510.03,50.72 L510.94,50.68 L511.84,50.65 L512.74,50.62 L513.65,50.61 L514.10,50.61 L514.55,50.61 L515.46,50.61 L516.36,50.62 L517.26,50.64 L518.17,50.66 L519.07,50.68 L519.98,50.71 L520.88,50.74 L521.78,50.78 L522.69,50.83 L523.59,50.87 L524.50,50.93 L525.40,50.98" fill="none" stroke="#ff6460" stroke-width="1.15" stroke-linejoin="round" />
<rect x="28.20" y="25.80" width="497.20" height="163.70" fill="none" stroke="#454545" stroke-width="1"/>
<line x1="73.40" y1="189.50" x2="73.40" y2="185.00" stroke="#454545" stroke-width="1"/>
<line x1="73.40" y1="25.80" x2="73.40" y2="30.30" stroke="#454545" stroke-width="1"/>
<line x1="118.60" y1="189.50" x2="118.60" y2="185.00" stroke="#454545" stroke-width="1"/>
<line x1="118.60" y1="25.80" x2="118.60" y2="30.30" stroke="#454545" stroke-width="1"/>
<line x1="163.80" y1="189.50" x2="163.80" y2="185.00" stroke="#454545" stroke-width="1"/>
<line x1="163.80" y1="25.80" x2="163.80" y2="30.30" stroke="#454545" stroke-width="1"/>
<line x1="209.00" y1="189.50" x2="209.00" y2="185.00" stroke="#454545" stroke-width="1"/>
<line x1="209.00" y1="25.80" x2="209.00" y2="30.30" stroke="#454545" stroke-width="1"/>
<line x1="254.20" y1="189.50" x2="254.20" y2="185.00" stroke="#454545" stroke-width="1"/>
<line x1="254.20" y1="25.80" x2="254.20" y2="30.30" stroke="#454545" stroke-width="1"/>
<line x1="299.40" y1="189.50" x2="299.40" y2="185.00" stroke="#454545" stroke-width="1"/>
<line x1="299.40" y1="25.80" x2="299.40" y2="30.30" stroke="#454545" stroke-width="1"/>
<line x1="344.60" y1="189.50" x2="344.60" y2="185.00" stroke="#454545" stroke-width="1"/>
<line x1="344.60" y1="25.80" x2="344.60" y2="30.30" stroke="#454545" stroke-width="1"/>
<line x1="389.80" y1="189.50" x2="389.80" y2="185.00" stroke="#454545" stroke-width="1"/>
<line x1="389.80" y1="25.80" x2="389.80" y2="30.30" stroke="#454545" stroke-width="1"/>
<line x1="435.00" y1="189.50" x2="435.00" y2="185.00" stroke="#454545" stroke-width="1"/>
<line x1="435.00" y1="25.80" x2="435.00" y2="30.30" stroke="#454545" stroke-width="1"/>
<line x1="480.20" y1="189.50" x2="480.20" y2="185.00" stroke="#454545" stroke-width="1"/>
<line x1="480.20" y1="25.80" x2="480.20" y2="30.30" stroke="#454545" stroke-width="1"/>
<text transform="translate(24.70 193.25) scale(1.06 1)" text-anchor="end" >34</text>
<line x1="28.20" y1="164.32" x2="32.70" y2="164.32" stroke="#454545" stroke-width="1"/>
<line x1="525.40" y1="164.32" x2="520.90" y2="164.32" stroke="#454545" stroke-width="1"/>
<text transform="translate(24.70 168.07) scale(1.06 1)" text-anchor="end" >36</text>
<line x1="28.20" y1="139.13" x2="32.70" y2="139.13" stroke="#454545" stroke-width="1"/>
<line x1="525.40" y1="139.13" x2="520.90" y2="139.13" stroke="#454545" stroke-width="1"/>
<text transform="translate(24.70 142.88) scale(1.06 1)" text-anchor="end" >38</text>
<line x1="28.20" y1="113.95" x2="32.70" y2="113.95" stroke="#454545" stroke-width="1"/>
<line x1="525.40" y1="113.95" x2="520.90" y2="113.95" stroke="#454545" stroke-width="1"/>
<text transform="translate(24.70 117.70) scale(1.06 1)" text-anchor="end" >40</text>
<line x1="28.20" y1="88.76" x2="32.70" y2="88.76" stroke="#454545" stroke-width="1"/>
<line x1="525.40" y1="88.76" x2="520.90" y2="88.76" stroke="#454545" stroke-width="1"/>
<text transform="translate(24.70 92.51) scale(1.06 1)" text-anchor="end" >42</text>
<line x1="28.20" y1="63.58" x2="32.70" y2="63.58" stroke="#454545" stroke-width="1"/>
<line x1="525.40" y1="63.58" x2="520.90" y2="63.58" stroke="#454545" stroke-width="1"/>
<text transform="translate(24.70 67.33) scale(1.06 1)" text-anchor="end" >44</text>
<line x1="28.20" y1="38.39" x2="32.70" y2="38.39" stroke="#454545" stroke-width="1"/>
<line x1="525.40" y1="38.39" x2="520.90" y2="38.39" stroke="#454545" stroke-width="1"/>
<text transform="translate(24.70 42.14) scale(1.06 1)" text-anchor="end" >46</text>
<text transform="translate(28.00 203.10) scale(1.06 1)" text-anchor="middle" >800</text>
<text transform="translate(73.20 203.10) scale(1.06 1)" text-anchor="middle" >1000</text>
<text transform="translate(118.40 203.10) scale(1.06 1)" text-anchor="middle" >1200</text>
<text transform="translate(163.60 203.10) scale(1.06 1)" text-anchor="middle" >1400</text>
<text transform="translate(208.80 203.10) scale(1.06 1)" text-anchor="middle" >1600</text>
<text transform="translate(254.00 203.10) scale(1.06 1)" text-anchor="middle" >1800</text>
<text transform="translate(299.20 203.10) scale(1.06 1)" text-anchor="middle" >2000</text>
<text transform="translate(344.40 203.10) scale(1.06 1)" text-anchor="middle" >2200</text>
<text transform="translate(389.60 203.10) scale(1.06 1)" text-anchor="middle" >2400</text>
<text transform="translate(434.80 203.10) scale(1.06 1)" text-anchor="middle" >2600</text>
<text transform="translate(480.00 203.10) scale(1.06 1)" text-anchor="middle" >2800</text>
<text transform="translate(525.20 203.10) scale(1.06 1)" text-anchor="middle" >3000</text>
<text transform="translate(191.00 16.80) scale(1.06 1)" text-anchor="start" ><tspan>Process output </tspan><tspan x="73.30" dy="-0.4" font-weight="bold" font-size="10.3px">− </tspan><tspan x="82.74" dy="0.4">Temperature [</tspan><tspan x="147.26" dy="-5.1" font-size="6.2px">o</tspan><tspan x="150.57" dy="5.1">C]</tspan></text>
<text transform="translate(276.60 216.20) scale(1.06 1)" text-anchor="middle" >t [s]</text>
<rect x="309.6" y="105.5" width="136.0" height="82.0" fill="#fff" stroke="#4c4c4c" stroke-width="1"/>
<line x1="316.6" y1="115.4" x2="350.8" y2="115.4" stroke="#6262ff" stroke-width="1.15" />
<text transform="translate(354.60 119.10) scale(1.06 1)" text-anchor="start" >FWLS</text>
<line x1="316.6" y1="131.1" x2="350.8" y2="131.1" stroke="#5ab25a" stroke-width="1.15" />
<text transform="translate(354.60 134.80) scale(1.06 1)" text-anchor="start" >Adaptive FWLS 1</text>
<line x1="316.6" y1="146.8" x2="350.8" y2="146.8" stroke="#ff6460" stroke-width="1.15" />
<text transform="translate(354.60 150.50) scale(1.06 1)" text-anchor="start" >Adaptive FWLS 2</text>
<line x1="316.6" y1="162.3" x2="350.8" y2="162.3" stroke="#5ae0e0" stroke-width="1.4" stroke-dasharray="7.2 4.1 1 3.9" stroke-dashoffset="11.3"/>
<text transform="translate(354.60 166.00) scale(1.06 1)" text-anchor="start" >Scaled open<tspan font-weight="bold" font-size="9.8px" dx="0.4">−</tspan><tspan dx="0.3">loop</tspan></text>
<line x1="316.6" y1="177.9" x2="350.8" y2="177.9" stroke="#e46cec" stroke-width="1.15" stroke-dasharray="6.5 7.1"/>
<text transform="translate(354.60 181.60) scale(1.06 1)" text-anchor="start" >reference</text>
<line x1="73.40" y1="417.70" x2="73.40" y2="254.45" stroke="#d2d2d2" stroke-width="1" stroke-dasharray="1 4.02"/>
<line x1="118.60" y1="417.70" x2="118.60" y2="254.45" stroke="#d2d2d2" stroke-width="1" stroke-dasharray="1 4.02"/>
<line x1="163.80" y1="417.70" x2="163.80" y2="254.45" stroke="#d2d2d2" stroke-width="1" stroke-dasharray="1 4.02"/>
<line x1="209.00" y1="417.70" x2="209.00" y2="254.45" stroke="#d2d2d2" stroke-width="1" stroke-dasharray="1 4.02"/>
<line x1="254.20" y1="417.70" x2="254.20" y2="254.45" stroke="#d2d2d2" stroke-width="1" stroke-dasharray="1 4.02"/>
<line x1="299.40" y1="417.70" x2="299.40" y2="254.45" stroke="#d2d2d2" stroke-width="1" stroke-dasharray="1 4.02"/>
<line x1="344.60" y1="417.70" x2="344.60" y2="254.45" stroke="#d2d2d2" stroke-width="1" stroke-dasharray="1 4.02"/>
<line x1="389.80" y1="417.70" x2="389.80" y2="254.45" stroke="#d2d2d2" stroke-width="1" stroke-dasharray="1 4.02"/>
<line x1="435.00" y1="417.70" x2="435.00" y2="254.45" stroke="#d2d2d2" stroke-width="1" stroke-dasharray="1 4.02"/>
<line x1="480.20" y1="417.70" x2="480.20" y2="254.45" stroke="#d2d2d2" stroke-width="1" stroke-dasharray="1 4.02"/>
<line x1="27.70" y1="384.45" x2="524.40" y2="384.45" stroke="#d2d2d2" stroke-width="1" stroke-dasharray="1 4.02"/>
<line x1="27.70" y1="351.70" x2="524.40" y2="351.70" stroke="#d2d2d2" stroke-width="1" stroke-dasharray="1 4.02"/>
<line x1="27.70" y1="318.95" x2="524.40" y2="318.95" stroke="#d2d2d2" stroke-width="1" stroke-dasharray="1 4.02"/>
<line x1="27.70" y1="286.20" x2="524.40" y2="286.20" stroke="#d2d2d2" stroke-width="1" stroke-dasharray="1 4.02"/>
<path d="M28.20,390.84 L28.65,390.84 L29.10,390.84 L29.56,390.84 L30.01,390.84 L30.46,390.84 L30.91,390.84 L31.36,390.84 L31.82,390.84 L32.27,390.84 L32.72,390.84 L33.17,390.84 L33.62,390.84 L34.08,390.84 L34.53,390.84 L34.98,390.84 L35.43,390.84 L35.88,390.84 L36.34,390.84 L36.79,390.84 L37.24,390.84 L37.69,390.84 L38.14,390.84 L38.60,390.84 L39.05,390.84 L39.50,390.84 L39.95,390.84 L40.40,390.84 L40.86,390.84 L41.31,390.84 L41.76,390.84 L42.21,390.84 L42.66,390.84 L43.12,390.84 L43.57,390.84 L44.02,390.84 L44.47,390.84 L44.92,390.84 L45.38,390.84 L45.83,390.84 L46.28,390.84 L46.73,390.84 L47.18,390.84 L47.64,390.84 L48.09,390.84 L48.54,390.84 L48.99,390.84 L49.44,390.84 L49.90,390.84 L50.35,390.84 L50.80,390.84 L51.25,390.84 L51.70,390.84 L52.16,390.84 L52.61,390.84 L53.06,390.84 L53.51,390.84 L53.96,390.84 L54.42,390.84 L54.87,390.84 L55.32,390.84 L55.77,390.84 L56.22,390.84 L56.68,390.84 L57.13,390.84 L57.58,390.84 L58.03,390.84 L58.48,390.84 L58.94,390.84 L59.39,390.84 L59.84,390.84 L60.29,390.84 L60.74,390.84 L61.20,390.84 L61.65,390.84 L62.10,390.84 L62.55,390.84 L63.00,390.84 L63.46,390.84 L63.91,390.84 L64.36,390.84 L64.81,390.84 L65.26,390.84 L65.49,390.84 L65.72,390.84 L66.17,390.84 L66.62,390.85 L67.07,390.87 L67.52,390.88 L67.98,390.90 L68.43,390.93 L68.88,390.95 L69.33,390.97 L69.78,390.99 L70.01,391.00 L70.24,391.01 L70.69,391.04 L71.14,391.07 L71.59,391.10 L72.04,391.12 L72.50,391.15 L72.95,391.16 L73.29,391.16 L73.40,375.17 L73.51,359.07 L73.85,358.61 L74.30,358.32 L74.76,358.17 L74.98,358.09 L75.21,357.98 L75.66,357.79 L76.11,357.62 L76.56,357.48 L76.79,357.43 L77.02,357.38 L77.47,357.29 L77.92,357.20 L78.37,357.14 L78.82,357.11 L78.96,357.10 L79.28,357.11 L79.73,357.12 L80.18,357.15 L80.63,357.18 L81.08,357.21 L81.54,357.25 L81.76,357.27 L81.99,357.29 L82.44,357.32 L82.89,357.37 L83.34,357.42 L83.80,357.47 L84.25,357.52 L84.70,357.57 L84.93,357.59 L85.15,357.62 L85.60,357.68 L86.06,357.73 L86.51,357.79 L86.96,357.85 L87.41,357.92 L87.86,357.98 L88.32,358.05 L88.77,358.11 L89.22,358.18 L89.67,358.25 L90.12,358.31 L90.58,358.38 L91.03,358.45 L91.48,358.51 L91.93,358.57 L92.38,358.63 L92.84,358.69 L93.29,358.74 L93.74,358.79 L94.19,358.84 L94.64,358.88 L94.87,358.90 L95.10,358.92 L95.55,358.96 L96.00,359.00 L96.45,359.04 L96.90,359.08 L97.36,359.11 L97.81,359.15 L98.26,359.19 L98.71,359.22 L99.16,359.25 L99.62,359.28 L100.07,359.32 L100.52,359.35 L100.97,359.37 L101.42,359.40 L101.88,359.43 L102.33,359.45 L102.78,359.48 L103.23,359.50 L103.68,359.52 L104.14,359.54 L104.59,359.56 L104.72,359.56 L105.04,359.57 L105.49,359.59 L105.94,359.60 L106.40,359.62 L106.85,359.64 L107.30,359.65 L107.75,359.67 L108.20,359.68 L108.66,359.70 L109.11,359.71 L109.56,359.73 L110.01,359.74 L110.46,359.75 L110.92,359.77 L111.37,359.78 L111.82,359.79 L112.27,359.80 L112.72,359.81 L113.18,359.82 L113.63,359.83 L114.08,359.84 L114.53,359.85 L114.98,359.86 L115.44,359.86 L115.89,359.87 L116.34,359.88 L116.79,359.88 L117.24,359.88 L117.70,359.89 L118.15,359.89 L118.60,359.89 L119.05,359.89 L119.50,359.89 L119.96,359.89 L120.41,359.89 L120.86,359.89 L121.31,359.89 L121.76,359.89 L122.22,359.89 L122.67,359.89 L123.12,359.89 L123.57,359.89 L124.02,359.89 L124.48,359.89 L124.93,359.89 L125.38,359.89 L125.83,359.89 L126.28,359.89 L126.74,359.89 L127.19,359.89 L127.64,359.89 L128.09,359.89 L128.54,359.89 L129.00,359.89 L129.45,359.89 L129.90,359.89 L130.35,359.89 L130.80,359.89 L131.26,359.89 L131.71,359.89 L132.16,359.89 L132.61,359.89 L133.06,359.89 L133.52,359.89 L133.97,359.89 L134.42,359.89 L134.87,359.89 L135.32,359.89 L135.78,359.89 L136.23,359.89 L136.68,359.89 L137.13,359.89 L137.58,359.89 L138.04,359.89 L138.49,359.89 L138.94,359.89 L139.39,359.89 L139.84,359.89 L140.30,359.89 L140.75,359.89 L141.20,359.89 L141.65,359.89 L142.10,359.88 L142.56,359.87 L143.01,359.87 L143.46,359.85 L143.91,359.84 L144.36,359.82 L144.82,359.81 L145.27,359.79 L145.72,359.77 L146.17,359.75 L146.62,359.73 L147.08,359.71 L147.53,359.69 L147.98,359.68 L148.43,359.66 L148.88,359.64 L149.34,359.62 L149.79,359.61 L150.24,359.59 L150.69,359.58 L151.14,359.57 L151.60,359.57 L152.05,359.56 L152.50,359.56 L152.95,359.56 L153.40,359.57 L153.86,359.58 L154.31,359.59 L154.76,359.61 L155.21,359.63 L155.66,359.65 L156.12,359.68 L156.57,359.71 L157.02,359.73 L157.47,359.76 L157.92,359.79 L158.38,359.82 L158.83,359.85 L159.28,359.88 L159.73,359.91 L160.18,359.93 L160.64,359.96 L161.09,359.98 L161.54,360.00 L161.99,360.02 L162.44,360.03 L162.90,360.04 L163.35,360.05 L163.80,360.05 L164.25,360.05 L164.70,360.05 L165.16,360.05 L165.61,360.05 L166.06,360.04 L166.51,360.04 L166.96,360.03 L167.42,360.03 L167.87,360.02 L168.32,360.02 L168.77,360.01 L169.22,360.00 L169.68,360.00 L170.13,359.99 L170.58,359.98 L171.03,359.97 L171.48,359.96 L171.94,359.95 L172.39,359.95 L172.84,359.94 L173.29,359.93 L173.74,359.92 L174.20,359.91 L174.65,359.90 L175.10,359.89 L175.55,359.88 L176.00,359.87 L176.46,359.86 L176.91,359.85 L177.36,359.84 L177.81,359.83 L178.26,359.82 L178.72,359.81 L179.17,359.80 L179.62,359.79 L180.07,359.79 L180.52,359.78 L180.98,359.77 L181.43,359.76 L181.88,359.76 L182.33,359.75 L182.78,359.75 L183.24,359.74 L183.69,359.74 L184.14,359.73 L184.59,359.73 L185.04,359.73 L185.50,359.73 L185.95,359.72 L186.40,359.72 L186.85,359.72 L187.30,359.73 L187.76,359.73 L188.21,359.73 L188.66,359.73 L189.11,359.74 L189.56,359.74 L190.02,359.75 L190.47,359.75 L190.92,359.76 L191.37,359.76 L191.82,359.77 L192.28,359.78 L192.73,359.79 L193.18,359.79 L193.63,359.80 L194.08,359.81 L194.54,359.82 L194.99,359.83 L195.44,359.84 L195.89,359.85 L196.34,359.86 L196.80,359.87 L197.25,359.88 L197.70,359.89 L198.15,359.90 L198.60,359.91 L199.06,359.92 L199.51,359.93 L199.96,359.94 L200.41,359.95 L200.86,359.95 L201.32,359.96 L201.77,359.97 L202.22,359.98 L202.67,359.99 L203.12,360.00 L203.58,360.00 L204.03,360.01 L204.48,360.02 L204.93,360.02 L205.38,360.03 L205.84,360.03 L206.29,360.04 L206.74,360.04 L207.19,360.05 L207.64,360.05 L208.10,360.05 L208.55,360.05 L209.00,360.05 L209.45,360.05 L209.90,360.05 L210.36,360.05 L210.81,360.05 L211.26,360.05 L211.71,360.05 L212.16,360.05 L212.62,360.05 L213.07,360.05 L213.52,360.05 L213.97,360.05 L214.42,360.05 L214.88,360.05 L215.33,360.05 L215.78,360.05 L216.23,360.05 L216.68,360.05 L217.14,360.05 L217.59,360.05 L218.04,360.05 L218.49,360.05 L218.94,360.05 L219.40,360.05 L219.85,360.05 L220.30,360.05 L220.75,360.05 L221.20,360.05 L221.66,360.05 L222.11,360.05 L222.56,360.05 L223.01,360.05 L223.46,360.05 L223.92,360.05 L224.37,360.05 L224.82,360.05 L225.27,360.05 L225.72,360.05 L226.18,360.05 L226.63,360.05 L227.08,360.05 L227.53,360.05 L227.98,360.05 L228.44,360.05 L228.89,360.05 L229.34,360.05 L229.79,360.05 L230.24,360.05 L230.70,360.05 L231.15,360.05 L231.60,360.05 L232.05,360.05 L232.50,360.05 L232.96,360.05 L233.41,360.05 L233.86,360.05 L234.31,360.06 L234.76,360.06 L235.22,360.06 L235.67,360.06 L236.12,360.06 L236.57,360.07 L237.02,360.07 L237.48,360.07 L237.93,360.07 L238.38,360.08 L238.83,360.08 L239.28,360.08 L239.74,360.09 L240.19,360.09 L240.64,360.09 L241.09,360.10 L241.54,360.10 L242.00,360.10 L242.45,360.11 L242.90,360.11 L243.35,360.12 L243.80,360.12 L244.26,360.13 L244.71,360.13 L245.16,360.13 L245.61,360.14 L246.06,360.14 L246.52,360.15 L246.97,360.15 L247.42,360.16 L247.87,360.16 L248.32,360.16 L248.78,360.17 L249.23,360.17 L249.68,360.18 L250.13,360.18 L250.58,360.19 L251.04,360.19 L251.49,360.19 L251.94,360.20 L252.39,360.20 L252.84,360.20 L253.30,360.21 L253.75,360.21 L254.20,360.21 L254.65,360.22 L255.10,360.22 L255.56,360.23 L256.01,360.23 L256.46,360.23 L256.91,360.24 L257.36,360.24 L257.82,360.24 L258.27,360.25 L258.72,360.25 L259.17,360.26 L259.62,360.26 L260.08,360.27 L260.53,360.27 L260.98,360.27 L261.43,360.28 L261.88,360.28 L262.34,360.29 L262.79,360.29 L263.24,360.30 L263.69,360.30 L264.14,360.30 L264.60,360.31 L265.05,360.31 L265.50,360.32 L265.95,360.32 L266.40,360.33 L266.86,360.33 L267.31,360.33 L267.76,360.34 L268.21,360.34 L268.66,360.34 L269.12,360.35 L269.57,360.35 L270.02,360.35 L270.47,360.36 L270.92,360.36 L271.38,360.36 L271.83,360.36 L272.28,360.37 L272.73,360.37 L273.18,360.37 L273.64,360.37 L274.09,360.37 L274.54,360.38 L274.99,360.38 L275.44,360.38 L275.90,360.38 L276.35,360.38 L276.80,360.38 L277.25,360.38 L277.70,360.38 L278.16,360.38 L278.61,360.38 L279.06,360.38 L279.51,360.38 L279.96,360.38 L280.42,360.38 L280.87,360.37 L281.32,360.37 L281.77,360.37 L282.22,360.37 L282.68,360.37 L283.13,360.37 L283.58,360.37 L284.03,360.37 L284.48,360.36 L284.94,360.36 L285.39,360.36 L285.84,360.36 L286.29,360.36 L286.74,360.35 L287.20,360.35 L287.65,360.35 L288.10,360.34 L288.55,360.34 L289.00,360.34 L289.46,360.34 L289.91,360.33 L290.36,360.33 L290.81,360.32 L291.26,360.32 L291.72,360.32 L292.17,360.31 L292.62,360.31 L293.07,360.30 L293.52,360.30 L293.98,360.29 L294.43,360.29 L294.88,360.28 L295.33,360.28 L295.78,360.27 L296.24,360.26 L296.69,360.26 L297.14,360.25 L297.59,360.24 L298.04,360.24 L298.50,360.23 L298.95,360.22 L299.40,360.21 L299.85,360.20 L300.30,360.18 L300.76,360.14 L301.21,360.10 L301.66,360.05 L302.11,359.97 L302.56,359.86 L303.02,359.72 L303.47,359.54 L303.92,359.30 L304.37,359.03 L304.82,358.76 L305.28,358.52 L305.50,358.41 L305.73,358.32 L306.18,358.14 L306.63,357.96 L307.08,357.80 L307.54,357.64 L307.99,357.48 L308.44,357.34 L308.89,357.19 L309.34,357.05 L309.80,356.90 L310.25,356.76 L310.70,356.61 L311.15,356.46 L311.60,356.32 L312.06,356.17 L312.51,356.02 L312.96,355.88 L313.41,355.73 L313.86,355.59 L314.32,355.44 L314.77,355.30 L315.22,355.16 L315.67,355.03 L316.12,354.89 L316.58,354.76 L317.03,354.63 L317.48,354.50 L317.93,354.38 L318.16,354.32 L318.38,354.26 L318.84,354.14 L319.29,354.02 L319.74,353.91 L320.19,353.79 L320.64,353.68 L321.10,353.57 L321.55,353.47 L322.00,353.36 L322.45,353.26 L322.90,353.16 L323.36,353.07 L323.81,352.97 L324.26,352.89 L324.49,352.85 L324.71,352.81 L325.16,352.73 L325.62,352.65 L326.07,352.58 L326.52,352.51 L326.97,352.44 L327.42,352.37 L327.88,352.31 L328.33,352.24 L328.78,352.18 L329.23,352.12 L329.68,352.05 L330.14,351.99 L330.59,351.93 L331.04,351.86 L331.49,351.80 L331.94,351.74 L332.40,351.67 L332.85,351.61 L333.30,351.55 L333.75,351.48 L334.20,351.42 L334.66,351.36 L335.11,351.30 L335.56,351.23 L336.01,351.17 L336.46,351.11 L336.92,351.05 L337.37,350.99 L337.82,350.93 L338.27,350.87 L338.72,350.81 L339.18,350.75 L339.63,350.69 L340.08,350.63 L340.53,350.57 L340.98,350.51 L341.44,350.46 L341.89,350.40 L342.34,350.34 L342.79,350.28 L343.24,350.23 L343.70,350.17 L344.15,350.12 L344.60,350.06 L345.05,350.01 L345.50,349.95 L345.96,349.90 L346.41,349.84 L346.86,349.79 L347.31,349.73 L347.76,349.68 L348.22,349.63 L348.67,349.57 L349.12,349.52 L349.57,349.47 L350.02,349.41 L350.48,349.36 L350.93,349.31 L351.38,349.26 L351.83,349.21 L352.28,349.16 L352.74,349.11 L353.19,349.06 L353.64,349.02 L354.09,348.97 L354.54,348.92 L355.00,348.88 L355.45,348.84 L355.90,348.79 L356.35,348.75 L356.80,348.71 L357.26,348.67 L357.71,348.63 L358.16,348.59 L358.61,348.55 L359.06,348.51 L359.52,348.48 L359.97,348.44 L360.42,348.40 L360.87,348.36 L361.32,348.33 L361.78,348.29 L362.23,348.25 L362.68,348.22 L363.13,348.18 L363.58,348.15 L364.04,348.12 L364.49,348.08 L364.94,348.05 L365.39,348.02 L365.84,347.99 L366.30,347.96 L366.75,347.93 L367.20,347.90 L367.65,347.87 L368.10,347.85 L368.56,347.82 L369.01,347.79 L369.46,347.77 L369.91,347.75 L370.36,347.72 L370.82,347.70 L371.27,347.68 L371.72,347.65 L372.17,347.63 L372.62,347.61 L373.08,347.59 L373.53,347.57 L373.98,347.55 L374.43,347.52 L374.88,347.50 L375.34,347.48 L375.79,347.46 L376.24,347.45 L376.69,347.43 L377.14,347.41 L377.60,347.39 L378.05,347.37 L378.50,347.35 L378.95,347.33 L379.40,347.32 L379.86,347.30 L380.31,347.28 L380.76,347.26 L381.21,347.25 L381.66,347.23 L382.12,347.21 L382.57,347.20 L383.02,347.18 L383.47,347.16 L383.92,347.15 L384.38,347.13 L384.83,347.12 L385.28,347.10 L385.73,347.09 L386.18,347.07 L386.64,347.06 L387.09,347.04 L387.54,347.03 L387.99,347.01 L388.44,347.00 L388.90,346.98 L389.35,346.97 L389.80,346.95 L390.25,346.94 L390.70,346.92 L391.16,346.91 L391.61,346.89 L392.06,346.88 L392.51,346.86 L392.96,346.85 L393.42,346.84 L393.87,346.82 L394.32,346.81 L394.77,346.79 L395.22,346.78 L395.68,346.77 L396.13,346.75 L396.58,346.74 L397.03,346.72 L397.48,346.71 L397.94,346.70 L398.39,346.69 L398.84,346.67 L399.29,346.66 L399.74,346.65 L400.20,346.63 L400.65,346.62 L401.10,346.61 L401.55,346.60 L402.00,346.59 L402.46,346.58 L402.91,346.56 L403.36,346.55 L403.81,346.54 L404.26,346.53 L404.72,346.52 L405.17,346.51 L405.62,346.50 L406.07,346.49 L406.52,346.49 L406.98,346.48 L407.43,346.47 L407.88,346.46 L408.33,346.45 L408.78,346.44 L409.24,346.44 L409.69,346.43 L410.14,346.42 L410.59,346.41 L411.04,346.40 L411.50,346.39 L411.95,346.39 L412.40,346.38 L412.85,346.37 L413.30,346.36 L413.76,346.35 L414.21,346.35 L414.66,346.34 L415.11,346.33 L415.56,346.33 L416.02,346.32 L416.47,346.32 L416.92,346.31 L417.37,346.31 L417.82,346.31 L418.28,346.30 L418.73,346.30 L419.18,346.30 L419.63,346.30 L420.08,346.30 L420.54,346.30 L420.99,346.30 L421.44,346.30 L421.89,346.30 L422.34,346.30 L422.80,346.30 L423.25,346.30 L423.70,346.30 L424.15,346.30 L424.60,346.30 L425.06,346.30 L425.51,346.30 L425.96,346.30 L426.41,346.30 L426.86,346.30 L427.32,346.30 L427.77,346.30 L428.22,346.30 L428.67,346.30 L429.12,346.30 L429.58,346.30 L430.03,346.30 L430.48,346.30 L430.93,346.30 L431.38,346.30 L431.84,346.30 L432.29,346.30 L432.74,346.30 L433.19,346.30 L433.64,346.30 L434.10,346.30 L434.55,346.30 L435.00,346.30 L435.45,346.30 L435.90,346.30 L436.36,346.30 L436.81,346.30 L437.26,346.30 L437.71,346.30 L438.16,346.30 L438.62,346.30 L439.07,346.30 L439.52,346.30 L439.97,346.30 L440.42,346.30 L440.88,346.30 L441.33,346.30 L441.78,346.30 L442.23,346.30 L442.68,346.30 L443.14,346.30 L443.59,346.30 L444.04,346.30 L444.49,346.30 L444.94,346.30 L445.40,346.30 L445.85,346.30 L446.30,346.30 L446.75,346.30 L447.20,346.30 L447.66,346.30 L448.11,346.30 L448.56,346.30 L449.01,346.30 L449.46,346.30 L449.92,346.30 L450.37,346.30 L450.82,346.30 L451.27,346.30 L451.72,346.30 L452.18,346.30 L452.63,346.30 L453.08,346.30 L453.53,346.30 L453.98,346.30 L454.44,346.30 L454.89,346.30 L455.34,346.30 L455.79,346.30 L456.24,346.30 L456.70,346.30 L457.15,346.30 L457.60,346.30 L458.05,346.30 L458.50,346.30 L458.96,346.30 L459.41,346.30 L459.86,346.30 L460.31,346.30 L460.76,346.30 L461.22,346.30 L461.67,346.30 L462.12,346.30 L462.57,346.30 L463.02,346.30 L463.48,346.30 L463.93,346.30 L464.38,346.30 L464.83,346.30 L465.28,346.30 L465.74,346.30 L466.19,346.30 L466.64,346.30 L467.09,346.30 L467.54,346.30 L468.00,346.30 L468.45,346.30 L468.90,346.30 L469.35,346.30 L469.80,346.30 L470.26,346.30 L470.71,346.30 L471.16,346.30 L471.61,346.30 L472.06,346.30 L472.52,346.30 L472.97,346.30 L473.42,346.30 L473.87,346.30 L474.32,346.30 L474.78,346.30 L475.23,346.30 L475.68,346.30 L476.13,346.30 L476.58,346.30 L477.04,346.30 L477.49,346.30 L477.94,346.30 L478.39,346.30 L478.84,346.30 L479.30,346.30 L479.75,346.30 L480.20,346.30 L480.65,346.30 L481.10,346.30 L481.56,346.30 L482.01,346.30 L482.46,346.30 L482.91,346.30 L483.36,346.30 L483.82,346.29 L484.27,346.29 L484.72,346.29 L485.17,346.29 L485.62,346.29 L486.08,346.29 L486.53,346.29 L486.98,346.29 L487.43,346.29 L487.88,346.29 L488.34,346.29 L488.79,346.29 L489.24,346.29 L489.69,346.29 L490.14,346.29 L490.60,346.28 L491.05,346.28 L491.50,346.28 L491.95,346.28 L492.40,346.28 L492.86,346.28 L493.31,346.28 L493.76,346.28 L494.21,346.28 L494.66,346.27 L495.12,346.27 L495.57,346.27 L496.02,346.27 L496.47,346.27 L496.92,346.27 L497.38,346.27 L497.83,346.26 L498.28,346.26 L498.73,346.26 L499.18,346.26 L499.64,346.26 L500.09,346.26 L500.54,346.25 L500.99,346.25 L501.44,346.25 L501.90,346.25 L502.35,346.25 L502.80,346.25 L503.25,346.24 L503.70,346.24 L504.16,346.24 L504.61,346.24 L505.06,346.24 L505.51,346.23 L505.96,346.23 L506.42,346.23 L506.87,346.23 L507.32,346.23 L507.77,346.22 L508.22,346.22 L508.68,346.22 L509.13,346.22 L509.58,346.21 L510.03,346.21 L510.48,346.21 L510.94,346.21 L511.39,346.21 L511.84,346.20 L512.29,346.20 L512.74,346.20 L513.20,346.20 L513.65,346.19 L514.10,346.19 L514.55,346.19 L515.00,346.19 L515.46,346.19 L515.91,346.18 L516.36,346.18 L516.81,346.18 L517.26,346.18 L517.72,346.17 L518.17,346.17 L518.62,346.17 L519.07,346.17 L519.52,346.16 L519.98,346.16 L520.43,346.16 L520.88,346.16 L521.33,346.15 L521.78,346.15 L522.24,346.15 L522.69,346.15 L523.14,346.14 L523.59,346.14 L524.04,346.14 L524.50,346.14 L524.95,346.13 L525.40,346.13" fill="none" stroke="#6262ff" stroke-width="1.15" stroke-linejoin="round" />
<path d="M28.20,392.31 L28.65,392.36 L29.10,392.41 L29.56,392.45 L30.01,392.50 L30.46,392.55 L30.91,392.60 L31.36,392.65 L31.82,392.70 L32.27,392.75 L32.72,392.80 L33.17,392.85 L33.62,392.91 L34.08,392.97 L34.53,393.03 L34.98,393.09 L35.43,393.15 L35.88,393.20 L36.34,393.26 L36.79,393.31 L37.24,393.36 L37.69,393.40 L38.14,393.44 L38.37,393.46 L38.60,393.47 L39.05,393.50 L39.50,393.53 L39.95,393.56 L40.40,393.58 L40.86,393.60 L41.31,393.62 L41.76,393.62 L42.21,393.62 L42.66,393.62 L43.12,393.62 L43.57,393.62 L44.02,393.62 L44.47,393.62 L44.92,393.62 L45.38,393.62 L45.83,393.62 L46.28,393.62 L46.73,393.62 L47.18,393.62 L47.64,393.62 L48.09,393.62 L48.54,393.62 L48.99,393.62 L49.44,393.62 L49.90,393.62 L50.35,393.62 L50.80,393.62 L51.25,393.62 L51.70,393.62 L52.16,393.62 L52.61,393.62 L53.06,393.62 L53.51,393.62 L53.96,393.62 L54.42,393.62 L54.87,393.62 L55.32,393.62 L55.77,393.62 L56.22,393.62 L56.68,393.62 L57.13,393.62 L57.58,393.62 L58.03,393.62 L58.48,393.62 L58.94,393.62 L59.39,393.62 L59.84,393.62 L60.29,393.62 L60.74,393.62 L61.20,393.62 L61.65,393.62 L62.10,393.62 L62.55,393.62 L63.00,393.62 L63.46,393.62 L63.91,393.62 L64.36,393.62 L64.81,393.62 L65.26,393.62 L65.72,393.62 L66.17,393.62 L66.62,393.62 L67.07,393.62 L67.52,393.62 L67.98,393.62 L68.43,393.62 L68.88,393.62 L69.33,393.62 L69.78,393.62 L70.24,393.62 L70.69,393.62 L71.14,393.62 L71.59,393.62 L72.04,393.62 L72.50,393.62 L72.95,393.62 L73.29,393.62 L73.40,351.08 L73.51,308.14 L73.85,306.67 L74.30,305.85 L74.76,304.69 L75.21,303.88 L75.66,303.50 L76.11,303.26 L76.34,303.23 L76.56,303.32 L77.02,303.88 L77.24,304.21 L77.47,304.58 L77.92,305.52 L78.33,306.50 L78.37,306.62 L78.82,307.91 L79.28,309.37 L79.73,310.84 L79.86,311.25 L80.18,312.21 L80.63,313.56 L81.08,314.88 L81.42,315.84 L81.54,316.15 L81.99,317.38 L82.44,318.58 L82.89,319.76 L82.96,319.93 L83.34,320.89 L83.41,321.08 L83.80,322.28 L84.25,323.90 L84.70,325.64 L85.15,327.37 L85.60,328.99 L85.90,329.92 L86.06,330.39 L86.51,331.67 L86.96,332.89 L87.41,334.05 L87.86,335.17 L88.32,336.25 L88.77,337.30 L89.22,338.33 L89.67,339.34 L89.85,339.75 L90.12,340.35 L90.58,341.34 L91.03,342.30 L91.48,343.24 L91.93,344.14 L92.38,345.00 L92.84,345.81 L93.29,346.58 L93.74,347.34 L94.19,348.09 L94.64,348.80 L95.10,349.49 L95.55,350.14 L96.00,350.75 L96.45,351.31 L96.79,351.70 L96.90,351.82 L97.36,352.30 L97.81,352.75 L98.26,353.17 L98.71,353.57 L99.16,353.95 L99.62,354.31 L100.07,354.65 L100.52,354.98 L100.75,355.14 L100.97,355.29 L101.42,355.60 L101.88,355.90 L102.33,356.19 L102.78,356.46 L103.23,356.72 L103.68,356.96 L104.14,357.18 L104.59,357.38 L104.72,357.43 L105.04,357.56 L105.49,357.73 L105.94,357.89 L106.40,358.05 L106.85,358.19 L107.30,358.33 L107.75,358.46 L108.20,358.58 L108.66,358.69 L109.11,358.79 L109.56,358.88 L109.67,358.90 L110.01,358.96 L110.46,359.04 L110.92,359.10 L111.37,359.16 L111.82,359.22 L112.27,359.27 L112.72,359.33 L113.18,359.38 L113.63,359.43 L114.08,359.49 L114.53,359.54 L114.64,359.56 L114.98,359.61 L115.44,359.68 L115.89,359.75 L116.34,359.82 L116.79,359.89 L117.24,359.96 L117.70,360.02 L118.15,360.08 L118.60,360.13 L119.05,360.18 L119.50,360.22 L119.96,360.26 L120.41,360.29 L120.86,360.32 L121.31,360.35 L121.76,360.38 L122.22,360.41 L122.67,360.45 L123.12,360.48 L123.57,360.52 L124.02,360.57 L124.48,360.62 L124.93,360.70 L125.38,360.80 L125.83,360.92 L126.28,361.03 L126.74,361.13 L127.19,361.20 L127.64,361.25 L128.09,361.30 L128.54,361.34 L129.00,361.39 L129.45,361.44 L129.90,361.48 L130.35,361.52 L130.80,361.57 L131.26,361.61 L131.71,361.65 L132.16,361.68 L132.61,361.72 L133.06,361.75 L133.52,361.78 L133.97,361.81 L134.42,361.84 L134.87,361.87 L135.32,361.89 L135.78,361.92 L136.23,361.94 L136.68,361.95 L137.13,361.97 L137.58,361.98 L138.04,362.00 L138.49,362.00 L138.94,362.01 L139.39,362.01 L139.84,362.02 L140.30,362.01 L140.75,362.01 L141.20,362.00 L141.65,361.99 L142.10,361.97 L142.56,361.95 L143.01,361.93 L143.46,361.91 L143.91,361.89 L144.36,361.86 L144.82,361.84 L145.27,361.81 L145.72,361.78 L146.17,361.76 L146.62,361.73 L147.08,361.71 L147.53,361.69 L147.98,361.67 L148.43,361.65 L148.88,361.63 L149.34,361.60 L149.79,361.58 L150.24,361.56 L150.69,361.54 L151.14,361.52 L151.60,361.49 L152.05,361.47 L152.50,361.45 L152.95,361.43 L153.40,361.40 L153.86,361.38 L154.31,361.35 L154.76,361.33 L155.21,361.30 L155.66,361.28 L156.12,361.25 L156.57,361.22 L157.02,361.20 L157.47,361.17 L157.92,361.14 L158.38,361.10 L158.83,361.06 L159.28,361.02 L159.73,360.98 L160.18,360.94 L160.64,360.90 L161.09,360.87 L161.54,360.83 L161.99,360.80 L162.44,360.77 L162.90,360.74 L163.35,360.72 L163.80,360.71 L164.25,360.69 L164.70,360.68 L165.16,360.67 L165.61,360.66 L166.06,360.65 L166.51,360.64 L166.96,360.62 L167.42,360.61 L167.87,360.60 L168.32,360.59 L168.77,360.58 L169.22,360.57 L169.68,360.56 L170.13,360.55 L170.58,360.54 L171.03,360.54 L171.48,360.53 L171.94,360.52 L172.39,360.51 L172.84,360.50 L173.29,360.49 L173.74,360.49 L174.20,360.48 L174.65,360.47 L175.10,360.46 L175.55,360.46 L176.00,360.45 L176.46,360.45 L176.91,360.44 L177.36,360.43 L177.81,360.43 L178.26,360.42 L178.72,360.42 L179.17,360.41 L179.62,360.41 L180.07,360.41 L180.52,360.40 L180.98,360.40 L181.43,360.40 L181.88,360.39 L182.33,360.39 L182.78,360.39 L183.24,360.39 L183.69,360.38 L184.14,360.38 L184.59,360.38 L185.04,360.38 L185.50,360.38 L185.95,360.38 L186.40,360.38 L186.85,360.38 L187.30,360.38 L187.76,360.38 L188.21,360.38 L188.66,360.38 L189.11,360.39 L189.56,360.39 L190.02,360.39 L190.47,360.39 L190.92,360.40 L191.37,360.40 L191.82,360.40 L192.28,360.41 L192.73,360.41 L193.18,360.41 L193.63,360.42 L194.08,360.42 L194.54,360.43 L194.99,360.43 L195.44,360.44 L195.89,360.44 L196.34,360.45 L196.80,360.45 L197.25,360.46 L197.70,360.46 L198.15,360.47 L198.60,360.47 L199.06,360.48 L199.51,360.48 L199.96,360.48 L200.41,360.49 L200.86,360.49 L201.32,360.50 L201.77,360.50 L202.22,360.51 L202.67,360.51 L203.12,360.52 L203.58,360.52 L204.03,360.52 L204.48,360.53 L204.93,360.53 L205.38,360.53 L205.84,360.53 L206.29,360.54 L206.74,360.54 L207.19,360.54 L207.64,360.54 L208.10,360.54 L208.55,360.54 L209.00,360.54 L209.45,360.54 L209.90,360.54 L210.36,360.54 L210.81,360.54 L211.26,360.54 L211.71,360.54 L212.16,360.53 L212.62,360.53 L213.07,360.53 L213.52,360.53 L213.97,360.52 L214.42,360.52 L214.88,360.52 L215.33,360.51 L215.78,360.51 L216.23,360.50 L216.68,360.50 L217.14,360.49 L217.59,360.49 L218.04,360.48 L218.49,360.48 L218.94,360.48 L219.40,360.47 L219.85,360.47 L220.30,360.46 L220.75,360.46 L221.20,360.45 L221.66,360.45 L222.11,360.44 L222.56,360.44 L223.01,360.43 L223.46,360.43 L223.92,360.42 L224.37,360.42 L224.82,360.41 L225.27,360.41 L225.72,360.41 L226.18,360.40 L226.63,360.40 L227.08,360.40 L227.53,360.39 L227.98,360.39 L228.44,360.39 L228.89,360.39 L229.34,360.38 L229.79,360.38 L230.24,360.38 L230.70,360.38 L231.15,360.38 L231.60,360.38 L232.05,360.38 L232.50,360.38 L232.96,360.38 L233.41,360.38 L233.86,360.38 L234.31,360.38 L234.76,360.38 L235.22,360.39 L235.67,360.39 L236.12,360.39 L236.57,360.39 L237.02,360.40 L237.48,360.40 L237.93,360.40 L238.38,360.40 L238.83,360.41 L239.28,360.41 L239.74,360.41 L240.19,360.42 L240.64,360.42 L241.09,360.42 L241.54,360.43 L242.00,360.43 L242.45,360.44 L242.90,360.44 L243.35,360.44 L243.80,360.45 L244.26,360.45 L244.71,360.46 L245.16,360.46 L245.61,360.47 L246.06,360.47 L246.52,360.47 L246.97,360.48 L247.42,360.48 L247.87,360.49 L248.32,360.49 L248.78,360.50 L249.23,360.50 L249.68,360.50 L250.13,360.51 L250.58,360.51 L251.04,360.52 L251.49,360.52 L251.94,360.52 L252.39,360.53 L252.84,360.53 L253.30,360.54 L253.75,360.54 L254.20,360.54 L254.65,360.55 L255.10,360.55 L255.56,360.55 L256.01,360.56 L256.46,360.56 L256.91,360.56 L257.36,360.57 L257.82,360.57 L258.27,360.58 L258.72,360.58 L259.17,360.58 L259.62,360.59 L260.08,360.59 L260.53,360.60 L260.98,360.60 L261.43,360.61 L261.88,360.61 L262.34,360.62 L262.79,360.62 L263.24,360.62 L263.69,360.63 L264.14,360.63 L264.60,360.64 L265.05,360.64 L265.50,360.64 L265.95,360.65 L266.40,360.65 L266.86,360.66 L267.31,360.66 L267.76,360.66 L268.21,360.67 L268.66,360.67 L269.12,360.67 L269.57,360.68 L270.02,360.68 L270.47,360.68 L270.92,360.69 L271.38,360.69 L271.83,360.69 L272.28,360.69 L272.73,360.70 L273.18,360.70 L273.64,360.70 L274.09,360.70 L274.54,360.70 L274.99,360.70 L275.44,360.71 L275.90,360.71 L276.35,360.71 L276.80,360.71 L277.25,360.71 L277.70,360.71 L278.16,360.71 L278.61,360.71 L279.06,360.71 L279.51,360.71 L279.96,360.71 L280.42,360.71 L280.87,360.71 L281.32,360.71 L281.77,360.71 L282.22,360.71 L282.68,360.71 L283.13,360.71 L283.58,360.71 L284.03,360.71 L284.48,360.71 L284.94,360.71 L285.39,360.71 L285.84,360.71 L286.29,360.71 L286.74,360.71 L287.20,360.71 L287.65,360.71 L288.10,360.71 L288.55,360.71 L289.00,360.71 L289.46,360.71 L289.91,360.71 L290.36,360.71 L290.81,360.71 L291.26,360.71 L291.72,360.71 L292.17,360.71 L292.62,360.71 L293.07,360.71 L293.52,360.71 L293.98,360.71 L294.43,360.71 L294.88,360.71 L295.33,360.71 L295.78,360.71 L296.24,360.71 L296.69,360.71 L297.14,360.71 L297.59,360.71 L298.04,360.71 L298.50,360.71 L298.95,360.71 L299.40,360.71 L299.85,360.63 L300.30,360.44 L300.76,360.21 L301.21,359.96 L301.66,359.63 L302.11,359.25 L302.56,358.84 L303.02,358.41 L303.47,357.95 L303.92,357.44 L304.37,356.90 L304.82,356.33 L305.28,355.75 L305.50,355.47 L305.73,355.17 L306.18,354.55 L306.63,353.90 L307.08,353.26 L307.54,352.65 L307.99,352.11 L308.44,351.63 L308.89,351.17 L309.34,350.74 L309.80,350.34 L310.25,349.95 L310.70,349.57 L311.15,349.20 L311.60,348.82 L312.06,348.44 L312.51,348.08 L312.96,347.74 L313.41,347.44 L313.86,347.17 L314.32,346.95 L314.77,346.77 L315.22,346.60 L315.67,346.45 L316.12,346.32 L316.58,346.19 L317.03,346.07 L317.48,345.96 L317.93,345.86 L318.16,345.81 L318.38,345.75 L318.84,345.65 L319.29,345.54 L319.74,345.43 L320.19,345.33 L320.64,345.23 L321.10,345.13 L321.55,345.04 L322.00,344.95 L322.45,344.88 L322.90,344.81 L323.36,344.75 L323.81,344.70 L324.26,344.67 L324.49,344.66 L324.71,344.65 L325.16,344.63 L325.62,344.61 L326.07,344.59 L326.52,344.58 L326.97,344.56 L327.42,344.55 L327.88,344.54 L328.33,344.53 L328.78,344.52 L329.23,344.51 L329.68,344.50 L330.14,344.50 L330.59,344.50 L331.04,344.50 L331.49,344.50 L331.94,344.50 L332.40,344.50 L332.85,344.50 L333.30,344.50 L333.75,344.50 L334.20,344.50 L334.66,344.50 L335.11,344.50 L335.56,344.50 L336.01,344.50 L336.46,344.50 L336.92,344.50 L337.37,344.50 L337.82,344.50 L338.27,344.50 L338.72,344.50 L339.18,344.50 L339.63,344.50 L340.08,344.50 L340.53,344.50 L340.98,344.50 L341.44,344.50 L341.89,344.50 L342.34,344.50 L342.79,344.50 L343.24,344.50 L343.70,344.50 L344.15,344.50 L344.60,344.50 L345.05,344.50 L345.50,344.50 L345.96,344.50 L346.41,344.50 L346.86,344.50 L347.31,344.50 L347.76,344.50 L348.22,344.50 L348.67,344.50 L349.12,344.50 L349.57,344.50 L350.02,344.50 L350.48,344.50 L350.93,344.50 L351.38,344.50 L351.83,344.50 L352.28,344.50 L352.74,344.50 L353.19,344.50 L353.64,344.50 L354.09,344.50 L354.54,344.50 L355.00,344.50 L355.45,344.50 L355.90,344.50 L356.35,344.50 L356.80,344.50 L357.26,344.50 L357.71,344.50 L358.16,344.50 L358.61,344.50 L359.06,344.50 L359.52,344.50 L359.97,344.50 L360.42,344.50 L360.87,344.50 L361.32,344.50 L361.78,344.50 L362.23,344.50 L362.68,344.50 L363.13,344.50 L363.58,344.50 L364.04,344.50 L364.49,344.50 L364.94,344.50 L365.39,344.50 L365.84,344.50 L366.30,344.50 L366.75,344.50 L367.20,344.50 L367.65,344.50 L368.10,344.50 L368.56,344.50 L369.01,344.50 L369.46,344.50 L369.91,344.50 L370.36,344.50 L370.82,344.50 L371.27,344.50 L371.72,344.50 L372.17,344.50 L372.62,344.50 L373.08,344.50 L373.53,344.50 L373.98,344.51 L374.43,344.51 L374.88,344.51 L375.34,344.51 L375.79,344.52 L376.24,344.52 L376.69,344.52 L377.14,344.53 L377.60,344.53 L378.05,344.53 L378.50,344.54 L378.95,344.54 L379.40,344.55 L379.86,344.55 L380.31,344.55 L380.76,344.56 L381.21,344.56 L381.66,344.57 L382.12,344.57 L382.57,344.58 L383.02,344.58 L383.47,344.59 L383.92,344.59 L384.38,344.60 L384.83,344.60 L385.28,344.61 L385.73,344.61 L386.18,344.62 L386.64,344.62 L387.09,344.63 L387.54,344.63 L387.99,344.64 L388.44,344.64 L388.90,344.65 L389.35,344.65 L389.80,344.66 L390.25,344.66 L390.70,344.67 L391.16,344.68 L391.61,344.68 L392.06,344.69 L392.51,344.70 L392.96,344.71 L393.42,344.72 L393.87,344.73 L394.32,344.74 L394.77,344.75 L395.22,344.76 L395.68,344.77 L396.13,344.78 L396.58,344.79 L397.03,344.80 L397.48,344.81 L397.94,344.83 L398.39,344.84 L398.84,344.85 L399.29,344.86 L399.74,344.87 L400.20,344.88 L400.65,344.89 L401.10,344.90 L401.55,344.91 L402.00,344.92 L402.46,344.93 L402.91,344.94 L403.36,344.94 L403.81,344.95 L404.26,344.96 L404.72,344.96 L405.17,344.97 L405.62,344.97 L406.07,344.98 L406.52,344.98 L406.98,344.98 L407.43,344.99 L407.88,344.99 L408.33,344.99 L408.78,344.98 L409.24,344.98 L409.69,344.98 L410.14,344.98 L410.59,344.97 L411.04,344.97 L411.50,344.96 L411.95,344.95 L412.40,344.95 L412.85,344.94 L413.30,344.93 L413.76,344.93 L414.21,344.92 L414.66,344.91 L415.11,344.90 L415.56,344.89 L416.02,344.89 L416.47,344.88 L416.92,344.87 L417.37,344.86 L417.82,344.86 L418.28,344.85 L418.73,344.84 L419.18,344.83 L419.63,344.83 L420.08,344.82 L420.54,344.82 L420.99,344.81 L421.44,344.81 L421.89,344.80 L422.34,344.80 L422.80,344.79 L423.25,344.78 L423.70,344.78 L424.15,344.77 L424.60,344.77 L425.06,344.76 L425.51,344.76 L425.96,344.75 L426.41,344.75 L426.86,344.74 L427.32,344.74 L427.77,344.73 L428.22,344.73 L428.67,344.72 L429.12,344.72 L429.58,344.71 L430.03,344.71 L430.48,344.70 L430.93,344.70 L431.38,344.69 L431.84,344.69 L432.29,344.68 L432.74,344.68 L433.19,344.68 L433.64,344.67 L434.10,344.67 L434.55,344.66 L435.00,344.66 L435.45,344.65 L435.90,344.65 L436.36,344.65 L436.81,344.64 L437.26,344.64 L437.71,344.63 L438.16,344.63 L438.62,344.62 L439.07,344.62 L439.52,344.62 L439.97,344.61 L440.42,344.61 L440.88,344.60 L441.33,344.60 L441.78,344.59 L442.23,344.59 L442.68,344.59 L443.14,344.58 L443.59,344.58 L444.04,344.57 L444.49,344.57 L444.94,344.56 L445.40,344.56 L445.85,344.56 L446.30,344.55 L446.75,344.55 L447.20,344.54 L447.66,344.54 L448.11,344.54 L448.56,344.53 L449.01,344.53 L449.46,344.53 L449.92,344.52 L450.37,344.52 L450.82,344.52 L451.27,344.52 L451.72,344.51 L452.18,344.51 L452.63,344.51 L453.08,344.51 L453.53,344.50 L453.98,344.50 L454.44,344.50 L454.89,344.50 L455.34,344.50 L455.79,344.50 L456.24,344.50 L456.70,344.50 L457.15,344.50 L457.60,344.50 L458.05,344.50 L458.50,344.50 L458.96,344.50 L459.41,344.50 L459.86,344.50 L460.31,344.50 L460.76,344.50 L461.22,344.51 L461.67,344.51 L462.12,344.51 L462.57,344.52 L463.02,344.52 L463.48,344.52 L463.93,344.53 L464.38,344.53 L464.83,344.53 L465.28,344.54 L465.74,344.54 L466.19,344.55 L466.64,344.55 L467.09,344.56 L467.54,344.56 L468.00,344.57 L468.45,344.57 L468.90,344.58 L469.35,344.58 L469.80,344.59 L470.26,344.59 L470.71,344.60 L471.16,344.60 L471.61,344.61 L472.06,344.61 L472.52,344.61 L472.97,344.62 L473.42,344.62 L473.87,344.63 L474.32,344.63 L474.78,344.63 L475.23,344.64 L475.68,344.64 L476.13,344.64 L476.58,344.65 L477.04,344.65 L477.49,344.65 L477.94,344.65 L478.39,344.66 L478.84,344.66 L479.30,344.66 L479.75,344.66 L480.20,344.66 L480.65,344.66 L481.10,344.66 L481.56,344.66 L482.01,344.66 L482.46,344.65 L482.91,344.65 L483.36,344.65 L483.82,344.65 L484.27,344.64 L484.72,344.64 L485.17,344.64 L485.62,344.63 L486.08,344.63 L486.53,344.63 L486.98,344.62 L487.43,344.62 L487.88,344.61 L488.34,344.61 L488.79,344.61 L489.24,344.60 L489.69,344.60 L490.14,344.59 L490.60,344.59 L491.05,344.58 L491.50,344.58 L491.95,344.57 L492.40,344.57 L492.86,344.56 L493.31,344.56 L493.76,344.55 L494.21,344.55 L494.66,344.54 L495.12,344.54 L495.57,344.53 L496.02,344.53 L496.47,344.53 L496.92,344.52 L497.38,344.52 L497.83,344.52 L498.28,344.51 L498.73,344.51 L499.18,344.51 L499.64,344.50 L500.09,344.50 L500.54,344.50 L500.99,344.50 L501.44,344.50 L501.90,344.50 L502.35,344.50 L502.80,344.50 L503.25,344.50 L503.70,344.50 L504.16,344.50 L504.61,344.50 L505.06,344.50 L505.51,344.50 L505.96,344.50 L506.42,344.50 L506.87,344.50 L507.32,344.50 L507.77,344.50 L508.22,344.50 L508.68,344.51 L509.13,344.51 L509.58,344.51 L510.03,344.51 L510.48,344.51 L510.94,344.52 L511.39,344.52 L511.84,344.52 L512.29,344.52 L512.74,344.53 L513.20,344.53 L513.65,344.53 L514.10,344.54 L514.55,344.54 L515.00,344.54 L515.46,344.55 L515.91,344.55 L516.36,344.55 L516.81,344.56 L517.26,344.56 L517.72,344.57 L518.17,344.57 L518.62,344.58 L519.07,344.58 L519.52,344.58 L519.98,344.59 L520.43,344.59 L520.88,344.60 L521.33,344.61 L521.78,344.61 L522.24,344.62 L522.69,344.62 L523.14,344.63 L523.59,344.63 L524.04,344.64 L524.50,344.65 L524.95,344.65 L525.40,344.66" fill="none" stroke="#5ab25a" stroke-width="1.15" stroke-linejoin="round" />
<path d="M28.20,391.33 L28.65,391.36 L29.10,391.39 L29.56,391.42 L30.01,391.45 L30.46,391.48 L30.91,391.50 L31.36,391.53 L31.82,391.56 L32.27,391.58 L32.72,391.60 L33.17,391.62 L33.62,391.63 L34.08,391.65 L34.53,391.65 L34.98,391.65 L35.43,391.65 L35.88,391.65 L36.34,391.65 L36.79,391.65 L37.24,391.65 L37.69,391.65 L38.14,391.65 L38.60,391.65 L39.05,391.65 L39.50,391.65 L39.95,391.65 L40.40,391.65 L40.86,391.65 L41.31,391.65 L41.76,391.65 L42.21,391.65 L42.66,391.65 L43.12,391.65 L43.57,391.65 L44.02,391.65 L44.47,391.65 L44.92,391.65 L45.38,391.65 L45.83,391.65 L46.28,391.65 L46.73,391.65 L47.18,391.65 L47.64,391.65 L48.09,391.65 L48.54,391.65 L48.99,391.65 L49.44,391.65 L49.90,391.65 L50.35,391.65 L50.80,391.65 L51.25,391.65 L51.70,391.65 L52.16,391.65 L52.61,391.65 L53.06,391.65 L53.51,391.65 L53.96,391.65 L54.42,391.65 L54.87,391.65 L55.32,391.65 L55.77,391.65 L56.22,391.65 L56.68,391.65 L57.13,391.65 L57.58,391.65 L58.03,391.65 L58.48,391.65 L58.94,391.65 L59.39,391.65 L59.84,391.65 L60.29,391.65 L60.74,391.65 L61.20,391.65 L61.65,391.65 L62.10,391.65 L62.55,391.65 L63.00,391.62 L63.46,391.58 L63.91,391.53 L64.36,391.47 L64.81,391.41 L65.26,391.35 L65.49,391.33 L65.72,391.30 L66.17,391.22 L66.62,391.13 L67.07,391.05 L67.52,391.01 L67.75,391.00 L67.98,391.00 L68.43,391.00 L68.88,391.00 L69.33,391.00 L69.78,391.00 L70.24,391.00 L70.69,391.00 L71.14,391.00 L71.59,391.04 L72.04,391.13 L72.50,391.23 L72.95,391.31 L73.29,391.33 L73.40,333.11 L73.51,274.25 L73.85,272.13 L74.08,271.46 L74.30,270.64 L74.76,269.50 L75.21,269.05 L75.66,268.84 L75.71,268.84 L76.11,269.24 L76.56,270.15 L77.02,271.37 L77.47,273.05 L77.56,273.43 L77.92,275.26 L78.37,278.13 L78.82,281.17 L79.05,282.60 L79.28,283.95 L79.73,286.63 L80.18,289.28 L80.63,291.93 L81.08,294.64 L81.54,297.35 L81.99,299.98 L82.19,301.10 L82.44,302.42 L82.89,304.69 L83.34,306.90 L83.73,308.80 L83.80,309.14 L84.25,311.40 L84.70,313.66 L85.15,315.92 L85.27,316.49 L85.60,318.25 L85.94,319.93 L86.06,320.45 L86.51,322.44 L86.96,324.32 L87.41,326.14 L87.86,327.96 L88.32,329.80 L88.77,331.64 L89.22,333.44 L89.67,335.16 L89.85,335.82 L90.12,336.78 L90.58,338.35 L91.03,339.86 L91.48,341.32 L91.93,342.69 L92.34,343.84 L92.38,343.96 L92.84,345.15 L93.29,346.27 L93.74,347.33 L94.19,348.35 L94.64,349.34 L94.82,349.74 L95.10,350.32 L95.55,351.28 L96.00,352.16 L96.29,352.68 L96.45,352.94 L96.90,353.67 L97.36,354.35 L97.81,354.98 L98.26,355.55 L98.71,356.05 L98.78,356.12 L99.16,356.50 L99.62,356.93 L100.07,357.32 L100.52,357.66 L100.97,357.94 L101.27,358.09 L101.42,358.15 L101.88,358.33 L102.33,358.49 L102.78,358.64 L103.23,358.76 L103.68,358.87 L104.14,358.97 L104.59,359.05 L104.72,359.07 L105.04,359.12 L105.49,359.18 L105.94,359.25 L106.40,359.31 L106.85,359.37 L107.30,359.42 L107.75,359.46 L108.20,359.50 L108.66,359.53 L109.11,359.55 L109.56,359.56 L109.67,359.56 L110.01,359.56 L110.46,359.56 L110.92,359.56 L111.37,359.56 L111.82,359.56 L112.27,359.56 L112.72,359.56 L113.18,359.56 L113.63,359.56 L114.08,359.56 L114.53,359.56 L114.98,359.55 L115.44,359.52 L115.89,359.48 L116.34,359.43 L116.79,359.37 L117.24,359.30 L117.70,359.22 L118.15,359.15 L118.60,359.07 L119.05,358.96 L119.50,358.81 L119.96,358.64 L120.41,358.47 L120.86,358.34 L121.31,358.26 L121.54,358.25 L121.76,358.25 L122.22,358.25 L122.67,358.25 L123.12,358.25 L123.57,358.25 L124.02,358.25 L124.48,358.25 L124.93,358.30 L125.38,358.43 L125.83,358.61 L126.28,358.81 L126.74,359.00 L127.19,359.15 L127.64,359.23 L128.09,359.27 L128.54,359.31 L129.00,359.35 L129.45,359.38 L129.90,359.41 L130.35,359.44 L130.80,359.46 L131.26,359.48 L131.71,359.50 L132.16,359.52 L132.61,359.53 L133.06,359.55 L133.52,359.55 L133.97,359.56 L134.42,359.56 L134.87,359.55 L135.32,359.54 L135.78,359.51 L136.23,359.47 L136.68,359.43 L137.13,359.39 L137.58,359.34 L138.04,359.29 L138.49,359.24 L138.94,359.20 L139.39,359.15 L139.84,359.12 L140.30,359.09 L140.75,359.08 L141.20,359.07 L141.65,359.07 L142.10,359.09 L142.56,359.12 L143.01,359.15 L143.46,359.20 L143.91,359.25 L144.36,359.30 L144.82,359.36 L145.27,359.42 L145.72,359.48 L146.17,359.54 L146.62,359.60 L147.08,359.66 L147.53,359.71 L147.98,359.76 L148.43,359.80 L148.88,359.84 L149.34,359.86 L149.79,359.88 L150.24,359.89 L150.69,359.88 L151.14,359.85 L151.60,359.80 L152.05,359.74 L152.50,359.68 L152.95,359.60 L153.40,359.52 L153.86,359.44 L154.31,359.36 L154.76,359.28 L155.21,359.21 L155.66,359.15 L156.12,359.11 L156.57,359.08 L157.02,359.07 L157.47,359.07 L157.92,359.08 L158.38,359.10 L158.83,359.12 L159.28,359.14 L159.73,359.17 L160.18,359.20 L160.64,359.23 L161.09,359.26 L161.54,359.29 L161.99,359.32 L162.44,359.34 L162.90,359.36 L163.35,359.38 L163.80,359.40 L164.25,359.41 L164.70,359.42 L165.16,359.43 L165.61,359.44 L166.06,359.45 L166.51,359.46 L166.96,359.47 L167.42,359.47 L167.87,359.48 L168.32,359.49 L168.77,359.50 L169.22,359.51 L169.68,359.51 L170.13,359.52 L170.58,359.53 L171.03,359.53 L171.48,359.54 L171.94,359.54 L172.39,359.55 L172.84,359.55 L173.29,359.55 L173.74,359.56 L174.20,359.56 L174.65,359.56 L175.10,359.56 L175.55,359.56 L176.00,359.55 L176.46,359.53 L176.91,359.52 L177.36,359.49 L177.81,359.46 L178.26,359.43 L178.72,359.40 L179.17,359.37 L179.62,359.33 L180.07,359.29 L180.52,359.25 L180.98,359.21 L181.43,359.17 L181.88,359.14 L182.33,359.10 L182.78,359.06 L183.24,359.03 L183.69,359.00 L184.14,358.97 L184.59,358.95 L185.04,358.93 L185.50,358.92 L185.95,358.91 L186.40,358.90 L186.85,358.92 L187.30,358.95 L187.76,359.01 L188.21,359.08 L188.66,359.16 L189.11,359.25 L189.56,359.35 L190.02,359.45 L190.47,359.54 L190.92,359.63 L191.37,359.72 L191.82,359.79 L192.28,359.84 L192.73,359.87 L193.18,359.89 L193.63,359.88 L194.08,359.87 L194.54,359.85 L194.99,359.82 L195.44,359.79 L195.89,359.75 L196.34,359.70 L196.80,359.65 L197.25,359.60 L197.70,359.54 L198.15,359.48 L198.60,359.42 L199.06,359.35 L199.51,359.28 L199.96,359.22 L200.41,359.15 L200.86,359.09 L201.32,359.02 L201.77,358.96 L202.22,358.90 L202.67,358.84 L203.12,358.76 L203.58,358.68 L204.03,358.59 L204.48,358.51 L204.93,358.43 L205.38,358.36 L205.84,358.30 L206.29,358.26 L206.74,358.25 L207.19,358.28 L207.64,358.37 L208.10,358.50 L208.55,358.65 L209.00,358.82 L209.45,358.99 L209.90,359.15 L210.36,359.28 L210.81,359.36 L211.26,359.40 L211.71,359.39 L212.16,359.39 L212.62,359.38 L213.07,359.36 L213.52,359.35 L213.97,359.33 L214.42,359.30 L214.88,359.28 L215.33,359.26 L215.78,359.23 L216.23,359.21 L216.68,359.18 L217.14,359.16 L217.59,359.14 L218.04,359.12 L218.49,359.10 L218.94,359.09 L219.40,359.08 L219.85,359.07 L220.30,359.07 L220.75,359.07 L221.20,359.07 L221.66,359.07 L222.11,359.07 L222.56,359.07 L223.01,359.07 L223.46,359.07 L223.92,359.07 L224.37,359.07 L224.82,359.07 L225.27,359.07 L225.72,359.07 L226.18,359.07 L226.63,359.07 L227.08,359.07 L227.53,359.07 L227.98,359.07 L228.44,359.07 L228.89,359.07 L229.34,359.07 L229.79,359.07 L230.24,359.07 L230.70,359.07 L231.15,359.07 L231.60,359.07 L232.05,359.07 L232.50,359.07 L232.96,359.06 L233.41,359.06 L233.86,359.06 L234.31,359.05 L234.76,359.05 L235.22,359.04 L235.67,359.03 L236.12,359.03 L236.57,359.02 L237.02,359.01 L237.48,359.00 L237.93,358.99 L238.38,358.99 L238.83,358.98 L239.28,358.97 L239.74,358.96 L240.19,358.95 L240.64,358.94 L241.09,358.93 L241.54,358.93 L242.00,358.92 L242.45,358.91 L242.90,358.90 L243.35,358.90 L243.80,358.89 L244.26,358.88 L244.71,358.88 L245.16,358.87 L245.61,358.86 L246.06,358.85 L246.52,358.84 L246.97,358.83 L247.42,358.82 L247.87,358.82 L248.32,358.81 L248.78,358.80 L249.23,358.79 L249.68,358.78 L250.13,358.78 L250.58,358.77 L251.04,358.76 L251.49,358.76 L251.94,358.75 L252.39,358.75 L252.84,358.75 L253.30,358.74 L253.75,358.74 L254.20,358.74 L254.65,358.74 L255.10,358.75 L255.56,358.75 L256.01,358.76 L256.46,358.77 L256.91,358.78 L257.36,358.79 L257.82,358.81 L258.27,358.82 L258.72,358.84 L259.17,358.85 L259.62,358.87 L260.08,358.89 L260.53,358.90 L260.98,358.92 L261.43,358.94 L261.88,358.96 L262.34,358.97 L262.79,358.99 L263.24,359.01 L263.69,359.02 L264.14,359.04 L264.60,359.05 L265.05,359.06 L265.50,359.07 L265.95,359.08 L266.40,359.09 L266.86,359.10 L267.31,359.10 L267.76,359.11 L268.21,359.12 L268.66,359.13 L269.12,359.14 L269.57,359.15 L270.02,359.16 L270.47,359.17 L270.92,359.17 L271.38,359.18 L271.83,359.19 L272.28,359.20 L272.73,359.20 L273.18,359.21 L273.64,359.21 L274.09,359.22 L274.54,359.22 L274.99,359.23 L275.44,359.23 L275.90,359.23 L276.35,359.23 L276.80,359.23 L277.25,359.23 L277.70,359.23 L278.16,359.22 L278.61,359.22 L279.06,359.21 L279.51,359.20 L279.96,359.19 L280.42,359.17 L280.87,359.16 L281.32,359.14 L281.77,359.13 L282.22,359.11 L282.68,359.09 L283.13,359.08 L283.58,359.06 L284.03,359.04 L284.48,359.02 L284.94,359.01 L285.39,358.99 L285.84,358.97 L286.29,358.96 L286.74,358.94 L287.20,358.93 L287.65,358.92 L288.10,358.90 L288.55,358.89 L289.00,358.89 L289.46,358.88 L289.91,358.87 L290.36,358.86 L290.81,358.86 L291.26,358.85 L291.72,358.85 L292.17,358.84 L292.62,358.83 L293.07,358.83 L293.52,358.82 L293.98,358.81 L294.43,358.80 L294.88,358.78 L295.33,358.77 L295.78,358.75 L296.01,358.74 L296.24,358.73 L296.69,358.68 L297.14,358.60 L297.59,358.49 L298.04,358.36 L298.50,358.21 L298.95,358.04 L299.40,357.85 L299.85,357.65 L300.30,357.43 L300.76,357.15 L301.21,356.76 L301.66,356.29 L302.11,355.76 L302.56,355.21 L303.02,354.65 L303.47,354.04 L303.92,353.35 L304.37,352.63 L304.82,351.90 L305.28,351.20 L305.50,350.88 L305.73,350.57 L306.18,349.97 L306.63,349.38 L307.08,348.81 L307.54,348.27 L307.99,347.77 L308.44,347.29 L308.89,346.82 L309.34,346.38 L309.80,345.96 L310.25,345.58 L310.70,345.23 L311.15,344.92 L311.60,344.62 L312.06,344.34 L312.51,344.08 L312.96,343.83 L313.41,343.60 L313.86,343.39 L314.32,343.19 L314.77,342.99 L315.22,342.80 L315.67,342.62 L316.12,342.45 L316.58,342.29 L317.03,342.14 L317.48,342.02 L317.93,341.92 L318.16,341.88 L318.38,341.84 L318.84,341.77 L319.29,341.70 L319.74,341.64 L320.19,341.59 L320.64,341.54 L321.10,341.49 L321.55,341.45 L322.00,341.41 L322.45,341.37 L322.90,341.33 L323.36,341.30 L323.81,341.27 L324.26,341.24 L324.49,341.22 L324.71,341.20 L325.16,341.17 L325.62,341.14 L326.07,341.11 L326.52,341.08 L326.97,341.05 L327.42,341.02 L327.88,340.99 L328.33,340.97 L328.78,340.95 L329.23,340.93 L329.68,340.91 L330.14,340.90 L330.59,340.89 L331.04,340.89 L331.49,340.91 L331.94,340.96 L332.40,341.04 L332.85,341.14 L333.30,341.25 L333.75,341.36 L334.20,341.47 L334.66,341.56 L335.11,341.64 L335.56,341.69 L336.01,341.71 L336.46,341.71 L336.92,341.71 L337.37,341.71 L337.82,341.71 L338.27,341.71 L338.72,341.71 L339.18,341.71 L339.63,341.71 L340.08,341.71 L340.53,341.71 L340.98,341.71 L341.44,341.71 L341.89,341.71 L342.34,341.71 L342.79,341.71 L343.24,341.71 L343.70,341.71 L344.15,341.69 L344.60,341.64 L345.05,341.56 L345.50,341.47 L345.96,341.36 L346.41,341.25 L346.86,341.14 L347.31,341.04 L347.76,340.96 L348.22,340.91 L348.67,340.89 L349.12,340.90 L349.57,340.93 L350.02,340.97 L350.48,341.03 L350.93,341.10 L351.38,341.18 L351.83,341.26 L352.28,341.36 L352.74,341.46 L353.19,341.56 L353.64,341.66 L354.09,341.76 L354.54,341.86 L355.00,341.96 L355.45,342.05 L355.90,342.13 L356.35,342.20 L356.80,342.27 L357.26,342.34 L357.71,342.42 L358.16,342.49 L358.61,342.57 L359.06,342.65 L359.52,342.73 L359.97,342.80 L360.42,342.88 L360.87,342.95 L361.32,343.03 L361.78,343.10 L362.23,343.16 L362.68,343.23 L363.13,343.28 L363.58,343.34 L364.04,343.38 L364.49,343.42 L364.94,343.46 L365.39,343.48 L365.84,343.50 L366.30,343.51 L366.52,343.51 L366.75,343.51 L367.20,343.51 L367.65,343.51 L368.10,343.51 L368.56,343.51 L369.01,343.51 L369.46,343.51 L369.91,343.51 L370.36,343.51 L370.82,343.51 L371.27,343.51 L371.72,343.51 L372.17,343.51 L372.62,343.51 L373.08,343.51 L373.53,343.51 L373.98,343.51 L374.43,343.51 L374.88,343.51 L375.34,343.51 L375.79,343.51 L376.24,343.51 L376.69,343.51 L377.14,343.51 L377.60,343.51 L378.05,343.52 L378.50,343.52 L378.95,343.52 L379.40,343.52 L379.86,343.53 L380.31,343.53 L380.76,343.54 L381.21,343.54 L381.66,343.55 L382.12,343.56 L382.57,343.56 L383.02,343.57 L383.47,343.58 L383.92,343.58 L384.38,343.59 L384.83,343.60 L385.28,343.61 L385.73,343.61 L386.18,343.62 L386.64,343.63 L387.09,343.64 L387.54,343.64 L387.99,343.65 L388.44,343.66 L388.90,343.66 L389.35,343.67 L389.80,343.68 L390.25,343.68 L390.70,343.69 L391.16,343.69 L391.61,343.70 L392.06,343.70 L392.51,343.71 L392.96,343.71 L393.42,343.72 L393.87,343.72 L394.32,343.73 L394.77,343.73 L395.22,343.73 L395.68,343.74 L396.13,343.74 L396.58,343.75 L397.03,343.75 L397.48,343.76 L397.94,343.77 L398.39,343.77 L398.84,343.78 L399.29,343.79 L399.74,343.79 L400.20,343.80 L400.65,343.81 L401.10,343.82 L401.55,343.83 L402.00,343.84 L402.23,343.84 L402.46,343.85 L402.91,343.86 L403.36,343.88 L403.81,343.91 L404.26,343.94 L404.72,343.97 L405.17,344.01 L405.62,344.04 L406.07,344.08 L406.52,344.12 L406.98,344.16 L407.43,344.21 L407.88,344.25 L408.33,344.29 L408.78,344.32 L409.24,344.36 L409.69,344.39 L410.14,344.42 L410.59,344.45 L411.04,344.47 L411.50,344.48 L411.95,344.49 L412.40,344.50 L412.85,344.49 L413.30,344.48 L413.76,344.45 L414.21,344.43 L414.66,344.39 L415.11,344.35 L415.56,344.31 L416.02,344.27 L416.47,344.23 L416.92,344.19 L417.37,344.14 L417.82,344.11 L418.28,344.07 L418.73,344.04 L419.18,344.02 L419.63,344.01 L420.08,344.00 L420.54,344.00 L420.99,344.01 L421.44,344.01 L421.89,344.01 L422.34,344.02 L422.80,344.03 L423.25,344.03 L423.70,344.04 L424.15,344.05 L424.60,344.06 L425.06,344.07 L425.51,344.08 L425.96,344.09 L426.41,344.10 L426.86,344.12 L427.32,344.13 L427.77,344.14 L428.22,344.15 L428.67,344.17 L429.12,344.18 L429.58,344.19 L430.03,344.21 L430.48,344.22 L430.93,344.23 L431.38,344.25 L431.84,344.26 L432.29,344.27 L432.74,344.28 L433.19,344.29 L433.64,344.30 L434.10,344.31 L434.55,344.32 L435.00,344.33 L435.45,344.34 L435.90,344.35 L436.36,344.36 L436.81,344.36 L437.26,344.37 L437.71,344.38 L438.16,344.39 L438.62,344.40 L439.07,344.41 L439.52,344.42 L439.97,344.43 L440.42,344.43 L440.88,344.44 L441.33,344.45 L441.78,344.46 L442.23,344.46 L442.68,344.47 L443.14,344.47 L443.59,344.48 L444.04,344.48 L444.49,344.49 L444.94,344.49 L445.40,344.49 L445.85,344.49 L446.30,344.50 L446.75,344.49 L447.20,344.49 L447.66,344.48 L448.11,344.46 L448.56,344.44 L449.01,344.42 L449.46,344.40 L449.92,344.38 L450.37,344.35 L450.82,344.32 L451.27,344.29 L451.72,344.26 L452.18,344.23 L452.63,344.21 L453.08,344.18 L453.53,344.15 L453.98,344.12 L454.44,344.10 L454.89,344.08 L455.34,344.05 L455.79,344.04 L456.24,344.02 L456.70,344.01 L457.15,344.01 L457.60,344.00 L458.05,344.01 L458.50,344.01 L458.96,344.02 L459.41,344.03 L459.86,344.04 L460.31,344.05 L460.76,344.07 L461.22,344.08 L461.67,344.10 L462.12,344.12 L462.57,344.14 L463.02,344.16 L463.48,344.18 L463.93,344.20 L464.38,344.22 L464.83,344.23 L465.28,344.25 L465.74,344.27 L466.19,344.28 L466.64,344.30 L467.09,344.31 L467.54,344.32 L468.00,344.33 L468.45,344.33 L468.90,344.33 L469.35,344.33 L469.80,344.33 L470.26,344.33 L470.71,344.32 L471.16,344.32 L471.61,344.32 L472.06,344.31 L472.52,344.31 L472.97,344.30 L473.42,344.29 L473.87,344.29 L474.32,344.28 L474.78,344.27 L475.23,344.26 L475.68,344.26 L476.13,344.25 L476.58,344.24 L477.04,344.23 L477.49,344.22 L477.94,344.21 L478.39,344.20 L478.84,344.19 L479.30,344.19 L479.75,344.18 L480.20,344.17 L480.65,344.16 L481.10,344.15 L481.56,344.14 L482.01,344.12 L482.46,344.11 L482.91,344.09 L483.36,344.08 L483.82,344.06 L484.27,344.04 L484.72,344.03 L485.17,344.01 L485.62,343.99 L486.08,343.97 L486.53,343.95 L486.98,343.93 L487.43,343.91 L487.88,343.89 L488.34,343.87 L488.79,343.86 L489.24,343.84 L489.69,343.82 L490.14,343.80 L490.60,343.79 L491.05,343.77 L491.50,343.76 L491.95,343.74 L492.40,343.73 L492.86,343.72 L493.31,343.71 L493.76,343.70 L494.21,343.69 L494.66,343.68 L495.12,343.68 L495.57,343.68 L496.02,343.68 L496.47,343.69 L496.92,343.72 L497.38,343.76 L497.83,343.82 L498.28,343.89 L498.73,343.96 L499.18,344.04 L499.64,344.13 L500.09,344.21 L500.54,344.28 L500.99,344.35 L501.44,344.41 L501.90,344.46 L502.35,344.48 L502.80,344.50 L503.25,344.49 L503.70,344.49 L504.16,344.48 L504.61,344.46 L505.06,344.44 L505.51,344.42 L505.96,344.40 L506.42,344.38 L506.87,344.35 L507.32,344.32 L507.77,344.29 L508.22,344.26 L508.68,344.23 L509.13,344.21 L509.58,344.18 L510.03,344.15 L510.48,344.12 L510.94,344.10 L511.39,344.08 L511.84,344.05 L512.29,344.04 L512.74,344.02 L513.20,344.01 L513.65,344.01 L514.10,344.00 L514.55,344.00 L515.00,344.00 L515.46,344.00 L515.91,344.00 L516.36,344.01 L516.81,344.01 L517.26,344.01 L517.72,344.01 L518.17,344.01 L518.62,344.01 L519.07,344.02 L519.52,344.02 L519.98,344.03 L520.43,344.03 L520.88,344.04 L521.33,344.05 L521.78,344.06 L522.24,344.06 L522.69,344.08 L523.14,344.09 L523.59,344.10 L524.04,344.12 L524.50,344.13 L524.95,344.15 L525.40,344.17" fill="none" stroke="#ff6460" stroke-width="1.15" stroke-linejoin="round" />
<rect x="28.20" y="253.45" width="497.20" height="163.75" fill="none" stroke="#454545" stroke-width="1"/>
<line x1="73.40" y1="417.20" x2="73.40" y2="412.70" stroke="#454545" stroke-width="1"/>
<line x1="73.40" y1="253.45" x2="73.40" y2="257.95" stroke="#454545" stroke-width="1"/>
<line x1="118.60" y1="417.20" x2="118.60" y2="412.70" stroke="#454545" stroke-width="1"/>
<line x1="118.60" y1="253.45" x2="118.60" y2="257.95" stroke="#454545" stroke-width="1"/>
<line x1="163.80" y1="417.20" x2="163.80" y2="412.70" stroke="#454545" stroke-width="1"/>
<line x1="163.80" y1="253.45" x2="163.80" y2="257.95" stroke="#454545" stroke-width="1"/>
<line x1="209.00" y1="417.20" x2="209.00" y2="412.70" stroke="#454545" stroke-width="1"/>
<line x1="209.00" y1="253.45" x2="209.00" y2="257.95" stroke="#454545" stroke-width="1"/>
<line x1="254.20" y1="417.20" x2="254.20" y2="412.70" stroke="#454545" stroke-width="1"/>
<line x1="254.20" y1="253.45" x2="254.20" y2="257.95" stroke="#454545" stroke-width="1"/>
<line x1="299.40" y1="417.20" x2="299.40" y2="412.70" stroke="#454545" stroke-width="1"/>
<line x1="299.40" y1="253.45" x2="299.40" y2="257.95" stroke="#454545" stroke-width="1"/>
<line x1="344.60" y1="417.20" x2="344.60" y2="412.70" stroke="#454545" stroke-width="1"/>
<line x1="344.60" y1="253.45" x2="344.60" y2="257.95" stroke="#454545" stroke-width="1"/>
<line x1="389.80" y1="417.20" x2="389.80" y2="412.70" stroke="#454545" stroke-width="1"/>
<line x1="389.80" y1="253.45" x2="389.80" y2="257.95" stroke="#454545" stroke-width="1"/>
<line x1="435.00" y1="417.20" x2="435.00" y2="412.70" stroke="#454545" stroke-width="1"/>
<line x1="435.00" y1="253.45" x2="435.00" y2="257.95" stroke="#454545" stroke-width="1"/>
<line x1="480.20" y1="417.20" x2="480.20" y2="412.70" stroke="#454545" stroke-width="1"/>
<line x1="480.20" y1="253.45" x2="480.20" y2="257.95" stroke="#454545" stroke-width="1"/>
<text transform="translate(24.70 420.95) scale(1.06 1)" text-anchor="end" >0</text>
<line x1="28.20" y1="384.45" x2="32.70" y2="384.45" stroke="#454545" stroke-width="1"/>
<line x1="525.40" y1="384.45" x2="520.90" y2="384.45" stroke="#454545" stroke-width="1"/>
<text transform="translate(24.70 388.20) scale(1.06 1)" text-anchor="end" >20</text>
<line x1="28.20" y1="351.70" x2="32.70" y2="351.70" stroke="#454545" stroke-width="1"/>
<line x1="525.40" y1="351.70" x2="520.90" y2="351.70" stroke="#454545" stroke-width="1"/>
<text transform="translate(24.70 355.45) scale(1.06 1)" text-anchor="end" >40</text>
<line x1="28.20" y1="318.95" x2="32.70" y2="318.95" stroke="#454545" stroke-width="1"/>
<line x1="525.40" y1="318.95" x2="520.90" y2="318.95" stroke="#454545" stroke-width="1"/>
<text transform="translate(24.70 322.70) scale(1.06 1)" text-anchor="end" >60</text>
<line x1="28.20" y1="286.20" x2="32.70" y2="286.20" stroke="#454545" stroke-width="1"/>
<line x1="525.40" y1="286.20" x2="520.90" y2="286.20" stroke="#454545" stroke-width="1"/>
<text transform="translate(24.70 289.95) scale(1.06 1)" text-anchor="end" >80</text>
<text transform="translate(23.80 257.20) scale(1.06 1)" text-anchor="end" >100</text>
<text transform="translate(28.00 430.80) scale(1.06 1)" text-anchor="middle" >800</text>
<text transform="translate(73.20 430.80) scale(1.06 1)" text-anchor="middle" >1000</text>
<text transform="translate(118.40 430.80) scale(1.06 1)" text-anchor="middle" >1200</text>
<text transform="translate(163.60 430.80) scale(1.06 1)" text-anchor="middle" >1400</text>
<text transform="translate(208.80 430.80) scale(1.06 1)" text-anchor="middle" >1600</text>
<text transform="translate(254.00 430.80) scale(1.06 1)" text-anchor="middle" >1800</text>
<text transform="translate(299.20 430.80) scale(1.06 1)" text-anchor="middle" >2000</text>
<text transform="translate(344.40 430.80) scale(1.06 1)" text-anchor="middle" >2200</text>
<text transform="translate(389.60 430.80) scale(1.06 1)" text-anchor="middle" >2400</text>
<text transform="translate(434.80 430.80) scale(1.06 1)" text-anchor="middle" >2600</text>
<text transform="translate(480.00 430.80) scale(1.06 1)" text-anchor="middle" >2800</text>
<text transform="translate(525.20 430.80) scale(1.06 1)" text-anchor="middle" >3000</text>
<text transform="translate(211.30 244.50) scale(1.06 1)" text-anchor="start" ><tspan>Process input </tspan><tspan x="66.98" dy="-0.4" font-weight="bold" font-size="10.3px">− </tspan><tspan x="75.94" dy="0.4">Power [%]</tspan></text>
<text transform="translate(276.60 443.90) scale(1.06 1)" text-anchor="middle" >t [s]</text>
<rect x="385.7" y="259.0" width="133.8" height="43.60000000000002" fill="#fff" stroke="#4c4c4c" stroke-width="1"/>
<line x1="392.7" y1="267.1" x2="425.3" y2="267.1" stroke="#6262ff" stroke-width="1.15"/>
<text transform="translate(430.20 270.80) scale(1.06 1)" text-anchor="start" >FWLS</text>
<line x1="392.7" y1="281.1" x2="425.3" y2="281.1" stroke="#5ab25a" stroke-width="1.15"/>
<text transform="translate(430.20 284.80) scale(1.06 1)" text-anchor="start" >Adaptive FWLS 1</text>
<line x1="392.7" y1="295.0" x2="425.3" y2="295.0" stroke="#ff6460" stroke-width="1.15"/>
<text transform="translate(430.20 298.70) scale(1.06 1)" text-anchor="start" >Adaptive FWLS 2</text>
</svg>
</body></html>
